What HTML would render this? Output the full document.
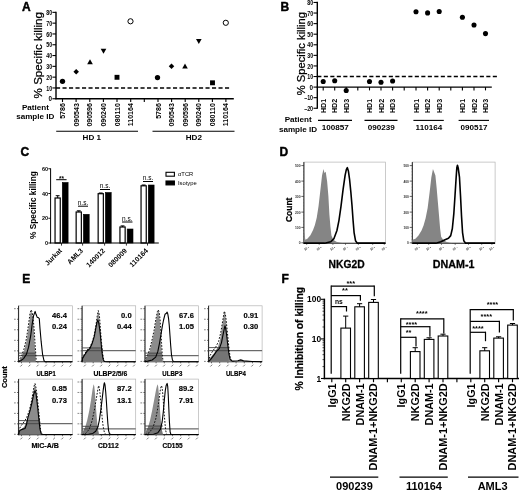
<!DOCTYPE html>
<html lang="en">
<head>
<meta charset="utf-8">
<title>Figure</title>
<style>
html,body{margin:0;padding:0;background:#fff;}
body{width:520px;height:490px;overflow:hidden;}
svg{display:block;font-family:'Liberation Sans', sans-serif;}
</style>
</head>
<body>
<svg width="520" height="490" viewBox="0 0 520 490">
<rect x="0" y="0" width="520" height="490" fill="#ffffff"/>
<text x="22.00" y="10.60" font-size="12" font-weight="bold" text-anchor="start" fill="#000" stroke="#000" stroke-width="0.45" stroke-linejoin="round">A</text>
<text x="0" y="0" transform="translate(41.50 98.40) rotate(-90)" font-size="11.6" font-weight="normal" text-anchor="start" fill="#000" stroke="#000" stroke-width="0.25" stroke-linejoin="round">% Specific killing</text>
<line x1="56.00" y1="11.75" x2="56.00" y2="99.35" stroke="#000" stroke-width="1.4" stroke-linecap="butt"/>
<line x1="52.40" y1="98.75" x2="56.00" y2="98.75" stroke="#000" stroke-width="1.1" stroke-linecap="butt"/>
<text x="52.10" y="101.31" font-size="6.3" font-weight="bold" text-anchor="end" fill="#000">0</text>
<line x1="52.40" y1="87.95" x2="56.00" y2="87.95" stroke="#000" stroke-width="1.1" stroke-linecap="butt"/>
<text x="52.10" y="90.51" font-size="6.3" font-weight="bold" text-anchor="end" fill="#000" textLength="5.90" lengthAdjust="spacingAndGlyphs">10</text>
<line x1="52.40" y1="77.15" x2="56.00" y2="77.15" stroke="#000" stroke-width="1.1" stroke-linecap="butt"/>
<text x="52.10" y="79.71" font-size="6.3" font-weight="bold" text-anchor="end" fill="#000" textLength="5.90" lengthAdjust="spacingAndGlyphs">20</text>
<line x1="52.40" y1="66.35" x2="56.00" y2="66.35" stroke="#000" stroke-width="1.1" stroke-linecap="butt"/>
<text x="52.10" y="68.91" font-size="6.3" font-weight="bold" text-anchor="end" fill="#000" textLength="5.90" lengthAdjust="spacingAndGlyphs">30</text>
<line x1="52.40" y1="55.55" x2="56.00" y2="55.55" stroke="#000" stroke-width="1.1" stroke-linecap="butt"/>
<text x="52.10" y="58.11" font-size="6.3" font-weight="bold" text-anchor="end" fill="#000" textLength="5.90" lengthAdjust="spacingAndGlyphs">40</text>
<line x1="52.40" y1="44.75" x2="56.00" y2="44.75" stroke="#000" stroke-width="1.1" stroke-linecap="butt"/>
<text x="52.10" y="47.31" font-size="6.3" font-weight="bold" text-anchor="end" fill="#000" textLength="5.90" lengthAdjust="spacingAndGlyphs">50</text>
<line x1="52.40" y1="33.95" x2="56.00" y2="33.95" stroke="#000" stroke-width="1.1" stroke-linecap="butt"/>
<text x="52.10" y="36.51" font-size="6.3" font-weight="bold" text-anchor="end" fill="#000" textLength="5.90" lengthAdjust="spacingAndGlyphs">60</text>
<line x1="52.40" y1="23.15" x2="56.00" y2="23.15" stroke="#000" stroke-width="1.1" stroke-linecap="butt"/>
<text x="52.10" y="25.71" font-size="6.3" font-weight="bold" text-anchor="end" fill="#000" textLength="5.90" lengthAdjust="spacingAndGlyphs">70</text>
<line x1="52.40" y1="12.35" x2="56.00" y2="12.35" stroke="#000" stroke-width="1.1" stroke-linecap="butt"/>
<text x="52.10" y="14.91" font-size="6.3" font-weight="bold" text-anchor="end" fill="#000" textLength="5.90" lengthAdjust="spacingAndGlyphs">80</text>
<line x1="55.40" y1="98.75" x2="233.80" y2="98.75" stroke="#000" stroke-width="1.3" stroke-linecap="butt"/>
<line x1="62.50" y1="98.75" x2="62.50" y2="102.05" stroke="#000" stroke-width="1.1" stroke-linecap="butt"/>
<line x1="76.10" y1="98.75" x2="76.10" y2="102.05" stroke="#000" stroke-width="1.1" stroke-linecap="butt"/>
<line x1="89.80" y1="98.75" x2="89.80" y2="102.05" stroke="#000" stroke-width="1.1" stroke-linecap="butt"/>
<line x1="103.40" y1="98.75" x2="103.40" y2="102.05" stroke="#000" stroke-width="1.1" stroke-linecap="butt"/>
<line x1="117.00" y1="98.75" x2="117.00" y2="102.05" stroke="#000" stroke-width="1.1" stroke-linecap="butt"/>
<line x1="130.70" y1="98.75" x2="130.70" y2="102.05" stroke="#000" stroke-width="1.1" stroke-linecap="butt"/>
<line x1="144.30" y1="98.75" x2="144.30" y2="102.05" stroke="#000" stroke-width="1.1" stroke-linecap="butt"/>
<line x1="158.00" y1="98.75" x2="158.00" y2="102.05" stroke="#000" stroke-width="1.1" stroke-linecap="butt"/>
<line x1="171.60" y1="98.75" x2="171.60" y2="102.05" stroke="#000" stroke-width="1.1" stroke-linecap="butt"/>
<line x1="185.20" y1="98.75" x2="185.20" y2="102.05" stroke="#000" stroke-width="1.1" stroke-linecap="butt"/>
<line x1="198.80" y1="98.75" x2="198.80" y2="102.05" stroke="#000" stroke-width="1.1" stroke-linecap="butt"/>
<line x1="212.40" y1="98.75" x2="212.40" y2="102.05" stroke="#000" stroke-width="1.1" stroke-linecap="butt"/>
<line x1="225.90" y1="98.75" x2="225.90" y2="102.05" stroke="#000" stroke-width="1.1" stroke-linecap="butt"/>
<text x="0" y="0" transform="translate(65.00 103.20) rotate(-90)" font-size="7.0" font-weight="bold" text-anchor="end" fill="#000">5786</text>
<text x="0" y="0" transform="translate(78.60 103.20) rotate(-90)" font-size="7.0" font-weight="bold" text-anchor="end" fill="#000">090543</text>
<text x="0" y="0" transform="translate(92.30 103.20) rotate(-90)" font-size="7.0" font-weight="bold" text-anchor="end" fill="#000">090596</text>
<text x="0" y="0" transform="translate(105.90 103.20) rotate(-90)" font-size="7.0" font-weight="bold" text-anchor="end" fill="#000">090240</text>
<text x="0" y="0" transform="translate(119.50 103.20) rotate(-90)" font-size="7.0" font-weight="bold" text-anchor="end" fill="#000">080110</text>
<text x="0" y="0" transform="translate(133.20 103.20) rotate(-90)" font-size="7.0" font-weight="bold" text-anchor="end" fill="#000">110164</text>
<text x="0" y="0" transform="translate(160.50 103.20) rotate(-90)" font-size="7.0" font-weight="bold" text-anchor="end" fill="#000">5786</text>
<text x="0" y="0" transform="translate(174.10 103.20) rotate(-90)" font-size="7.0" font-weight="bold" text-anchor="end" fill="#000">090543</text>
<text x="0" y="0" transform="translate(187.70 103.20) rotate(-90)" font-size="7.0" font-weight="bold" text-anchor="end" fill="#000">090596</text>
<text x="0" y="0" transform="translate(201.30 103.20) rotate(-90)" font-size="7.0" font-weight="bold" text-anchor="end" fill="#000">090240</text>
<text x="0" y="0" transform="translate(214.90 103.20) rotate(-90)" font-size="7.0" font-weight="bold" text-anchor="end" fill="#000">080110</text>
<text x="0" y="0" transform="translate(228.40 103.20) rotate(-90)" font-size="7.0" font-weight="bold" text-anchor="end" fill="#000">110164</text>
<line x1="56.00" y1="88.00" x2="231.00" y2="88.00" stroke="#000" stroke-width="1.3" stroke-dasharray="4.1 2.4" stroke-linecap="butt"/>
<circle cx="62.50" cy="81.30" r="2.65" fill="#000" stroke="none" stroke-width="1.0"/>
<path d="M76.20 69.05 L78.95 71.80 L76.20 74.55 L73.45 71.80 Z" fill="#000" stroke="none" stroke-width="1.0" stroke-linejoin="round"/>
<path d="M90.00 59.20 L92.80 64.24 L87.20 64.24 Z" fill="#000" stroke="none" stroke-width="1.0" stroke-linejoin="round"/>
<path d="M103.50 53.80 L106.30 48.76 L100.70 48.76 Z" fill="#000" stroke="none" stroke-width="1.0" stroke-linejoin="round"/>
<path d="M114.55 74.85 L119.45 74.85 L119.45 79.75 L114.55 79.75 Z" fill="#000" stroke="none" stroke-width="1.0" stroke-linejoin="round"/>
<circle cx="130.50" cy="21.30" r="2.6" fill="#fff" stroke="#000" stroke-width="1.0"/>
<circle cx="157.50" cy="77.60" r="2.65" fill="#000" stroke="none" stroke-width="1.0"/>
<path d="M171.50 63.55 L174.25 66.30 L171.50 69.05 L168.75 66.30 Z" fill="#000" stroke="none" stroke-width="1.0" stroke-linejoin="round"/>
<path d="M185.00 63.40 L187.80 68.44 L182.20 68.44 Z" fill="#000" stroke="none" stroke-width="1.0" stroke-linejoin="round"/>
<path d="M198.80 44.00 L201.60 38.96 L196.00 38.96 Z" fill="#000" stroke="none" stroke-width="1.0" stroke-linejoin="round"/>
<path d="M210.05 80.35 L214.95 80.35 L214.95 85.25 L210.05 85.25 Z" fill="#000" stroke="none" stroke-width="1.0" stroke-linejoin="round"/>
<circle cx="225.80" cy="22.80" r="2.6" fill="#fff" stroke="#000" stroke-width="1.0"/>
<text x="35.40" y="109.60" font-size="8.1" font-weight="bold" text-anchor="middle" fill="#000">Patient</text>
<text x="35.30" y="119.00" font-size="8.1" font-weight="bold" text-anchor="middle" fill="#000">sample ID</text>
<line x1="56.20" y1="131.30" x2="138.00" y2="131.30" stroke="#000" stroke-width="1.1" stroke-linecap="butt"/>
<line x1="152.50" y1="131.30" x2="234.50" y2="131.30" stroke="#000" stroke-width="1.1" stroke-linecap="butt"/>
<text x="91.80" y="140.00" font-size="8.1" font-weight="bold" text-anchor="middle" fill="#000">HD 1</text>
<text x="193.80" y="140.00" font-size="8.1" font-weight="bold" text-anchor="middle" fill="#000">HD2</text>
<text x="280.50" y="10.60" font-size="12" font-weight="bold" text-anchor="start" fill="#000" stroke="#000" stroke-width="0.45" stroke-linejoin="round">B</text>
<text x="0" y="0" transform="translate(305.00 95.30) rotate(-90)" font-size="11.2" font-weight="normal" text-anchor="start" fill="#000" stroke="#000" stroke-width="0.25" stroke-linejoin="round">% Specific killing</text>
<line x1="317.30" y1="1.86" x2="317.30" y2="108.86" stroke="#000" stroke-width="1.4" stroke-linecap="butt"/>
<line x1="313.50" y1="108.26" x2="317.30" y2="108.26" stroke="#000" stroke-width="1.1" stroke-linecap="butt"/>
<text x="313.10" y="110.82" font-size="6.3" font-weight="bold" text-anchor="end" fill="#000" textLength="8.90" lengthAdjust="spacingAndGlyphs">–20</text>
<line x1="313.50" y1="97.68" x2="317.30" y2="97.68" stroke="#000" stroke-width="1.1" stroke-linecap="butt"/>
<text x="313.10" y="100.24" font-size="6.3" font-weight="bold" text-anchor="end" fill="#000" textLength="8.90" lengthAdjust="spacingAndGlyphs">–10</text>
<line x1="313.50" y1="87.10" x2="317.30" y2="87.10" stroke="#000" stroke-width="1.1" stroke-linecap="butt"/>
<text x="313.10" y="89.66" font-size="6.3" font-weight="bold" text-anchor="end" fill="#000">0</text>
<line x1="313.50" y1="76.52" x2="317.30" y2="76.52" stroke="#000" stroke-width="1.1" stroke-linecap="butt"/>
<text x="313.10" y="79.08" font-size="6.3" font-weight="bold" text-anchor="end" fill="#000" textLength="5.90" lengthAdjust="spacingAndGlyphs">10</text>
<line x1="313.50" y1="65.94" x2="317.30" y2="65.94" stroke="#000" stroke-width="1.1" stroke-linecap="butt"/>
<text x="313.10" y="68.50" font-size="6.3" font-weight="bold" text-anchor="end" fill="#000" textLength="5.90" lengthAdjust="spacingAndGlyphs">20</text>
<line x1="313.50" y1="55.36" x2="317.30" y2="55.36" stroke="#000" stroke-width="1.1" stroke-linecap="butt"/>
<text x="313.10" y="57.92" font-size="6.3" font-weight="bold" text-anchor="end" fill="#000" textLength="5.90" lengthAdjust="spacingAndGlyphs">30</text>
<line x1="313.50" y1="44.78" x2="317.30" y2="44.78" stroke="#000" stroke-width="1.1" stroke-linecap="butt"/>
<text x="313.10" y="47.34" font-size="6.3" font-weight="bold" text-anchor="end" fill="#000" textLength="5.90" lengthAdjust="spacingAndGlyphs">40</text>
<line x1="313.50" y1="34.20" x2="317.30" y2="34.20" stroke="#000" stroke-width="1.1" stroke-linecap="butt"/>
<text x="313.10" y="36.76" font-size="6.3" font-weight="bold" text-anchor="end" fill="#000" textLength="5.90" lengthAdjust="spacingAndGlyphs">50</text>
<line x1="313.50" y1="23.62" x2="317.30" y2="23.62" stroke="#000" stroke-width="1.1" stroke-linecap="butt"/>
<text x="313.10" y="26.18" font-size="6.3" font-weight="bold" text-anchor="end" fill="#000" textLength="5.90" lengthAdjust="spacingAndGlyphs">60</text>
<line x1="313.50" y1="13.04" x2="317.30" y2="13.04" stroke="#000" stroke-width="1.1" stroke-linecap="butt"/>
<text x="313.10" y="15.60" font-size="6.3" font-weight="bold" text-anchor="end" fill="#000" textLength="5.90" lengthAdjust="spacingAndGlyphs">70</text>
<line x1="313.50" y1="2.46" x2="317.30" y2="2.46" stroke="#000" stroke-width="1.1" stroke-linecap="butt"/>
<text x="313.10" y="5.02" font-size="6.3" font-weight="bold" text-anchor="end" fill="#000" textLength="5.90" lengthAdjust="spacingAndGlyphs">80</text>
<line x1="316.70" y1="87.10" x2="491.80" y2="87.10" stroke="#000" stroke-width="1.3" stroke-linecap="butt"/>
<line x1="323.20" y1="87.10" x2="323.20" y2="90.40" stroke="#000" stroke-width="1.1" stroke-linecap="butt"/>
<line x1="334.70" y1="87.10" x2="334.70" y2="90.40" stroke="#000" stroke-width="1.1" stroke-linecap="butt"/>
<line x1="346.20" y1="87.10" x2="346.20" y2="90.40" stroke="#000" stroke-width="1.1" stroke-linecap="butt"/>
<line x1="369.50" y1="87.10" x2="369.50" y2="90.40" stroke="#000" stroke-width="1.1" stroke-linecap="butt"/>
<line x1="381.00" y1="87.10" x2="381.00" y2="90.40" stroke="#000" stroke-width="1.1" stroke-linecap="butt"/>
<line x1="392.60" y1="87.10" x2="392.60" y2="90.40" stroke="#000" stroke-width="1.1" stroke-linecap="butt"/>
<line x1="416.00" y1="87.10" x2="416.00" y2="90.40" stroke="#000" stroke-width="1.1" stroke-linecap="butt"/>
<line x1="427.60" y1="87.10" x2="427.60" y2="90.40" stroke="#000" stroke-width="1.1" stroke-linecap="butt"/>
<line x1="439.20" y1="87.10" x2="439.20" y2="90.40" stroke="#000" stroke-width="1.1" stroke-linecap="butt"/>
<line x1="462.40" y1="87.10" x2="462.40" y2="90.40" stroke="#000" stroke-width="1.1" stroke-linecap="butt"/>
<line x1="474.00" y1="87.10" x2="474.00" y2="90.40" stroke="#000" stroke-width="1.1" stroke-linecap="butt"/>
<line x1="485.50" y1="87.10" x2="485.50" y2="90.40" stroke="#000" stroke-width="1.1" stroke-linecap="butt"/>
<line x1="357.80" y1="87.10" x2="357.80" y2="90.40" stroke="#000" stroke-width="1.1" stroke-linecap="butt"/>
<line x1="404.20" y1="87.10" x2="404.20" y2="90.40" stroke="#000" stroke-width="1.1" stroke-linecap="butt"/>
<line x1="450.80" y1="87.10" x2="450.80" y2="90.40" stroke="#000" stroke-width="1.1" stroke-linecap="butt"/>
<line x1="317.30" y1="76.50" x2="497.00" y2="76.50" stroke="#000" stroke-width="1.3" stroke-dasharray="4.1 2.4" stroke-linecap="butt"/>
<circle cx="323.20" cy="81.50" r="2.55" fill="#000" stroke="none" stroke-width="1.0"/>
<circle cx="334.70" cy="80.70" r="2.55" fill="#000" stroke="none" stroke-width="1.0"/>
<circle cx="346.20" cy="90.50" r="2.55" fill="#000" stroke="none" stroke-width="1.0"/>
<text x="0" y="0" transform="translate(325.80 98.80) rotate(-90)" font-size="7.1" font-weight="bold" text-anchor="end" fill="#000">HD1</text>
<text x="0" y="0" transform="translate(337.30 98.80) rotate(-90)" font-size="7.1" font-weight="bold" text-anchor="end" fill="#000">HD2</text>
<text x="0" y="0" transform="translate(348.80 98.80) rotate(-90)" font-size="7.1" font-weight="bold" text-anchor="end" fill="#000">HD3</text>
<circle cx="369.50" cy="81.50" r="2.55" fill="#000" stroke="none" stroke-width="1.0"/>
<circle cx="381.00" cy="82.20" r="2.55" fill="#000" stroke="none" stroke-width="1.0"/>
<circle cx="392.60" cy="81.00" r="2.55" fill="#000" stroke="none" stroke-width="1.0"/>
<text x="0" y="0" transform="translate(372.10 98.80) rotate(-90)" font-size="7.1" font-weight="bold" text-anchor="end" fill="#000">HD1</text>
<text x="0" y="0" transform="translate(383.60 98.80) rotate(-90)" font-size="7.1" font-weight="bold" text-anchor="end" fill="#000">HD2</text>
<text x="0" y="0" transform="translate(395.20 98.80) rotate(-90)" font-size="7.1" font-weight="bold" text-anchor="end" fill="#000">HD3</text>
<circle cx="416.00" cy="11.80" r="2.55" fill="#000" stroke="none" stroke-width="1.0"/>
<circle cx="427.60" cy="12.90" r="2.55" fill="#000" stroke="none" stroke-width="1.0"/>
<circle cx="439.20" cy="11.50" r="2.55" fill="#000" stroke="none" stroke-width="1.0"/>
<text x="0" y="0" transform="translate(418.60 98.80) rotate(-90)" font-size="7.1" font-weight="bold" text-anchor="end" fill="#000">HD1</text>
<text x="0" y="0" transform="translate(430.20 98.80) rotate(-90)" font-size="7.1" font-weight="bold" text-anchor="end" fill="#000">HD2</text>
<text x="0" y="0" transform="translate(441.80 98.80) rotate(-90)" font-size="7.1" font-weight="bold" text-anchor="end" fill="#000">HD3</text>
<circle cx="462.40" cy="17.20" r="2.55" fill="#000" stroke="none" stroke-width="1.0"/>
<circle cx="474.00" cy="25.00" r="2.55" fill="#000" stroke="none" stroke-width="1.0"/>
<circle cx="485.50" cy="33.60" r="2.55" fill="#000" stroke="none" stroke-width="1.0"/>
<text x="0" y="0" transform="translate(465.00 98.80) rotate(-90)" font-size="7.1" font-weight="bold" text-anchor="end" fill="#000">HD1</text>
<text x="0" y="0" transform="translate(476.60 98.80) rotate(-90)" font-size="7.1" font-weight="bold" text-anchor="end" fill="#000">HD2</text>
<text x="0" y="0" transform="translate(488.10 98.80) rotate(-90)" font-size="7.1" font-weight="bold" text-anchor="end" fill="#000">HD3</text>
<text x="298.20" y="121.90" font-size="8.1" font-weight="bold" text-anchor="middle" fill="#000">Patient</text>
<text x="298.00" y="131.90" font-size="8.1" font-weight="bold" text-anchor="middle" fill="#000">sample ID</text>
<line x1="318.00" y1="120.40" x2="352.00" y2="120.40" stroke="#000" stroke-width="1.1" stroke-linecap="butt"/>
<text x="335.30" y="130.40" font-size="8.1" font-weight="bold" text-anchor="middle" fill="#000">100857</text>
<line x1="364.50" y1="120.40" x2="397.50" y2="120.40" stroke="#000" stroke-width="1.1" stroke-linecap="butt"/>
<text x="381.30" y="130.40" font-size="8.1" font-weight="bold" text-anchor="middle" fill="#000">090239</text>
<line x1="413.40" y1="120.40" x2="443.80" y2="120.40" stroke="#000" stroke-width="1.1" stroke-linecap="butt"/>
<text x="428.90" y="130.40" font-size="8.1" font-weight="bold" text-anchor="middle" fill="#000">110164</text>
<line x1="458.60" y1="120.40" x2="489.00" y2="120.40" stroke="#000" stroke-width="1.1" stroke-linecap="butt"/>
<text x="474.10" y="130.40" font-size="8.1" font-weight="bold" text-anchor="middle" fill="#000">090517</text>
<text x="20.50" y="156.30" font-size="12" font-weight="bold" text-anchor="start" fill="#000" stroke="#000" stroke-width="0.45" stroke-linejoin="round">C</text>
<text x="0" y="0" transform="translate(35.80 239.00) rotate(-90)" font-size="8.3" font-weight="bold" text-anchor="start" fill="#000">% Specific killing</text>
<line x1="50.60" y1="168.35" x2="50.60" y2="243.40" stroke="#000" stroke-width="1.0" stroke-linecap="butt"/>
<line x1="48.30" y1="243.00" x2="50.60" y2="243.00" stroke="#000" stroke-width="0.9" stroke-linecap="butt"/>
<text x="48.00" y="245.17" font-size="5.5" font-weight="bold" text-anchor="end" fill="#000">0</text>
<line x1="48.30" y1="218.25" x2="50.60" y2="218.25" stroke="#000" stroke-width="0.9" stroke-linecap="butt"/>
<text x="48.00" y="220.42" font-size="5.5" font-weight="bold" text-anchor="end" fill="#000">20</text>
<line x1="48.30" y1="193.50" x2="50.60" y2="193.50" stroke="#000" stroke-width="0.9" stroke-linecap="butt"/>
<text x="48.00" y="195.67" font-size="5.5" font-weight="bold" text-anchor="end" fill="#000">40</text>
<line x1="48.30" y1="168.75" x2="50.60" y2="168.75" stroke="#000" stroke-width="0.9" stroke-linecap="butt"/>
<text x="48.00" y="170.92" font-size="5.5" font-weight="bold" text-anchor="end" fill="#000">60</text>
<rect x="55.05" y="198.00" width="5.20" height="45.00" fill="#fff" stroke="#000" stroke-width="1.2"/>
<line x1="57.70" y1="195.70" x2="57.70" y2="198.00" stroke="#000" stroke-width="1.0" stroke-linecap="butt"/>
<line x1="55.70" y1="195.70" x2="59.60" y2="195.70" stroke="#000" stroke-width="1.0" stroke-linecap="butt"/>
<rect x="62.30" y="182.50" width="5.80" height="60.50" fill="#000" stroke="#000" stroke-width="0.6"/>
<rect x="76.15" y="212.00" width="5.20" height="31.00" fill="#fff" stroke="#000" stroke-width="1.2"/>
<line x1="78.80" y1="210.80" x2="78.80" y2="212.00" stroke="#000" stroke-width="1.0" stroke-linecap="butt"/>
<line x1="76.80" y1="210.80" x2="80.70" y2="210.80" stroke="#000" stroke-width="1.0" stroke-linecap="butt"/>
<rect x="83.40" y="214.30" width="5.80" height="28.70" fill="#000" stroke="#000" stroke-width="0.6"/>
<rect x="98.15" y="193.70" width="5.20" height="49.30" fill="#fff" stroke="#000" stroke-width="1.2"/>
<line x1="100.80" y1="193.00" x2="100.80" y2="193.70" stroke="#000" stroke-width="1.0" stroke-linecap="butt"/>
<line x1="98.80" y1="193.00" x2="102.70" y2="193.00" stroke="#000" stroke-width="1.0" stroke-linecap="butt"/>
<rect x="105.40" y="192.50" width="5.80" height="50.50" fill="#000" stroke="#000" stroke-width="0.6"/>
<rect x="119.95" y="227.00" width="5.20" height="16.00" fill="#fff" stroke="#000" stroke-width="1.2"/>
<line x1="122.60" y1="225.90" x2="122.60" y2="227.00" stroke="#000" stroke-width="1.0" stroke-linecap="butt"/>
<line x1="120.60" y1="225.90" x2="124.50" y2="225.90" stroke="#000" stroke-width="1.0" stroke-linecap="butt"/>
<rect x="127.20" y="229.00" width="5.80" height="14.00" fill="#000" stroke="#000" stroke-width="0.6"/>
<rect x="141.05" y="185.80" width="5.20" height="57.20" fill="#fff" stroke="#000" stroke-width="1.2"/>
<line x1="143.70" y1="185.00" x2="143.70" y2="185.80" stroke="#000" stroke-width="1.0" stroke-linecap="butt"/>
<line x1="141.70" y1="185.00" x2="145.60" y2="185.00" stroke="#000" stroke-width="1.0" stroke-linecap="butt"/>
<rect x="148.30" y="185.00" width="5.80" height="58.00" fill="#000" stroke="#000" stroke-width="0.6"/>
<line x1="50.20" y1="243.00" x2="158.80" y2="243.00" stroke="#000" stroke-width="1.0" stroke-linecap="butt"/>
<line x1="56.20" y1="179.70" x2="66.60" y2="179.70" stroke="#000" stroke-width="1.0" stroke-linecap="butt"/>
<text x="61.40" y="181.10" font-size="6.4" font-weight="bold" text-anchor="middle" fill="#000">**</text>
<line x1="78.00" y1="206.20" x2="88.00" y2="206.20" stroke="#000" stroke-width="1.0" stroke-linecap="butt"/>
<text x="83.00" y="205.00" font-size="6.5" font-weight="normal" text-anchor="middle" fill="#000">n.s.</text>
<line x1="100.00" y1="189.50" x2="110.00" y2="189.50" stroke="#000" stroke-width="1.0" stroke-linecap="butt"/>
<text x="105.00" y="188.30" font-size="6.5" font-weight="normal" text-anchor="middle" fill="#000">n.s.</text>
<line x1="122.00" y1="222.00" x2="132.50" y2="222.00" stroke="#000" stroke-width="1.0" stroke-linecap="butt"/>
<text x="127.25" y="220.80" font-size="6.5" font-weight="normal" text-anchor="middle" fill="#000">n.s.</text>
<line x1="143.00" y1="181.50" x2="153.00" y2="181.50" stroke="#000" stroke-width="1.0" stroke-linecap="butt"/>
<text x="148.00" y="180.30" font-size="6.5" font-weight="normal" text-anchor="middle" fill="#000">n.s.</text>
<line x1="61.50" y1="243.00" x2="61.50" y2="245.60" stroke="#000" stroke-width="0.8" stroke-linecap="butt"/>
<text x="0" y="0" transform="translate(62.50 251.20) rotate(-45)" font-size="7.0" font-weight="bold" text-anchor="end" fill="#000">Jurkat</text>
<line x1="82.60" y1="243.00" x2="82.60" y2="245.60" stroke="#000" stroke-width="0.8" stroke-linecap="butt"/>
<text x="0" y="0" transform="translate(83.60 251.20) rotate(-45)" font-size="7.0" font-weight="bold" text-anchor="end" fill="#000">AML3</text>
<line x1="104.60" y1="243.00" x2="104.60" y2="245.60" stroke="#000" stroke-width="0.8" stroke-linecap="butt"/>
<text x="0" y="0" transform="translate(105.60 251.20) rotate(-45)" font-size="7.0" font-weight="bold" text-anchor="end" fill="#000">140012</text>
<line x1="126.40" y1="243.00" x2="126.40" y2="245.60" stroke="#000" stroke-width="0.8" stroke-linecap="butt"/>
<text x="0" y="0" transform="translate(127.40 251.20) rotate(-45)" font-size="7.0" font-weight="bold" text-anchor="end" fill="#000">080009</text>
<line x1="147.50" y1="243.00" x2="147.50" y2="245.60" stroke="#000" stroke-width="0.8" stroke-linecap="butt"/>
<text x="0" y="0" transform="translate(148.50 251.20) rotate(-45)" font-size="7.0" font-weight="bold" text-anchor="end" fill="#000">110164</text>
<rect x="166.00" y="172.30" width="8.40" height="3.90" fill="#fff" stroke="#000" stroke-width="1.1"/>
<rect x="166.00" y="181.00" width="8.40" height="3.90" fill="#000" stroke="#000" stroke-width="1.1"/>
<text x="178.00" y="176.38" font-size="5.8" font-weight="normal" text-anchor="start" fill="#000">αTCR</text>
<text x="178.00" y="185.08" font-size="5.8" font-weight="normal" text-anchor="start" fill="#000">Isotype</text>
<text x="279.40" y="156.30" font-size="12" font-weight="bold" text-anchor="start" fill="#000" stroke="#000" stroke-width="0.45" stroke-linejoin="round">D</text>
<rect x="303.90" y="162.10" width="81.70" height="81.10" fill="#fff" stroke="#b4b4b4" stroke-width="0.7"/>
<line x1="303.90" y1="162.10" x2="303.90" y2="243.70" stroke="#222" stroke-width="1.0" stroke-linecap="butt"/>
<line x1="303.40" y1="243.20" x2="385.60" y2="243.20" stroke="#222" stroke-width="1.1" stroke-linecap="butt"/>
<line x1="301.30" y1="165.60" x2="303.90" y2="165.60" stroke="#222" stroke-width="0.7" stroke-linecap="butt"/>
<line x1="301.30" y1="181.10" x2="303.90" y2="181.10" stroke="#222" stroke-width="0.7" stroke-linecap="butt"/>
<line x1="301.30" y1="196.40" x2="303.90" y2="196.40" stroke="#222" stroke-width="0.7" stroke-linecap="butt"/>
<line x1="301.30" y1="212.10" x2="303.90" y2="212.10" stroke="#222" stroke-width="0.7" stroke-linecap="butt"/>
<line x1="301.30" y1="227.40" x2="303.90" y2="227.40" stroke="#222" stroke-width="0.7" stroke-linecap="butt"/>
<line x1="301.30" y1="242.80" x2="303.90" y2="242.80" stroke="#222" stroke-width="0.7" stroke-linecap="butt"/>
<line x1="303.00" y1="168.70" x2="303.90" y2="168.70" stroke="#444" stroke-width="0.35" stroke-linecap="butt"/>
<line x1="303.00" y1="171.80" x2="303.90" y2="171.80" stroke="#444" stroke-width="0.35" stroke-linecap="butt"/>
<line x1="303.00" y1="174.90" x2="303.90" y2="174.90" stroke="#444" stroke-width="0.35" stroke-linecap="butt"/>
<line x1="303.00" y1="178.00" x2="303.90" y2="178.00" stroke="#444" stroke-width="0.35" stroke-linecap="butt"/>
<line x1="303.00" y1="184.16" x2="303.90" y2="184.16" stroke="#444" stroke-width="0.35" stroke-linecap="butt"/>
<line x1="303.00" y1="187.22" x2="303.90" y2="187.22" stroke="#444" stroke-width="0.35" stroke-linecap="butt"/>
<line x1="303.00" y1="190.28" x2="303.90" y2="190.28" stroke="#444" stroke-width="0.35" stroke-linecap="butt"/>
<line x1="303.00" y1="193.34" x2="303.90" y2="193.34" stroke="#444" stroke-width="0.35" stroke-linecap="butt"/>
<line x1="303.00" y1="199.54" x2="303.90" y2="199.54" stroke="#444" stroke-width="0.35" stroke-linecap="butt"/>
<line x1="303.00" y1="202.68" x2="303.90" y2="202.68" stroke="#444" stroke-width="0.35" stroke-linecap="butt"/>
<line x1="303.00" y1="205.82" x2="303.90" y2="205.82" stroke="#444" stroke-width="0.35" stroke-linecap="butt"/>
<line x1="303.00" y1="208.96" x2="303.90" y2="208.96" stroke="#444" stroke-width="0.35" stroke-linecap="butt"/>
<line x1="303.00" y1="215.16" x2="303.90" y2="215.16" stroke="#444" stroke-width="0.35" stroke-linecap="butt"/>
<line x1="303.00" y1="218.22" x2="303.90" y2="218.22" stroke="#444" stroke-width="0.35" stroke-linecap="butt"/>
<line x1="303.00" y1="221.28" x2="303.90" y2="221.28" stroke="#444" stroke-width="0.35" stroke-linecap="butt"/>
<line x1="303.00" y1="224.34" x2="303.90" y2="224.34" stroke="#444" stroke-width="0.35" stroke-linecap="butt"/>
<line x1="303.00" y1="230.48" x2="303.90" y2="230.48" stroke="#444" stroke-width="0.35" stroke-linecap="butt"/>
<line x1="303.00" y1="233.56" x2="303.90" y2="233.56" stroke="#444" stroke-width="0.35" stroke-linecap="butt"/>
<line x1="303.00" y1="236.64" x2="303.90" y2="236.64" stroke="#444" stroke-width="0.35" stroke-linecap="butt"/>
<line x1="303.00" y1="239.72" x2="303.90" y2="239.72" stroke="#444" stroke-width="0.35" stroke-linecap="butt"/>
<line x1="306.70" y1="243.20" x2="306.70" y2="244.80" stroke="#333" stroke-width="0.7" stroke-linecap="butt"/>
<line x1="319.20" y1="243.20" x2="319.20" y2="244.80" stroke="#333" stroke-width="0.7" stroke-linecap="butt"/>
<line x1="332.90" y1="243.20" x2="332.90" y2="244.80" stroke="#333" stroke-width="0.7" stroke-linecap="butt"/>
<line x1="345.50" y1="243.20" x2="345.50" y2="244.80" stroke="#333" stroke-width="0.7" stroke-linecap="butt"/>
<line x1="358.40" y1="243.20" x2="358.40" y2="244.80" stroke="#333" stroke-width="0.7" stroke-linecap="butt"/>
<line x1="372.70" y1="243.20" x2="372.70" y2="244.80" stroke="#333" stroke-width="0.7" stroke-linecap="butt"/>
<line x1="384.30" y1="243.20" x2="384.30" y2="244.80" stroke="#333" stroke-width="0.7" stroke-linecap="butt"/>
<text x="300.50" y="167.08" font-size="3.3" font-weight="bold" text-anchor="end" fill="#333">500</text>
<text x="300.50" y="182.58" font-size="3.3" font-weight="bold" text-anchor="end" fill="#333">400</text>
<text x="300.50" y="197.88" font-size="3.3" font-weight="bold" text-anchor="end" fill="#333">300</text>
<text x="300.50" y="213.58" font-size="3.3" font-weight="bold" text-anchor="end" fill="#333">200</text>
<text x="300.50" y="228.88" font-size="3.3" font-weight="bold" text-anchor="end" fill="#333">100</text>
<text x="300.50" y="244.28" font-size="3.3" font-weight="bold" text-anchor="end" fill="#333">0</text>
<text x="0" y="0" transform="translate(306.30 249.80) rotate(-35)" font-size="3.1" font-weight="bold" text-anchor="middle" fill="#333">10</text>
<text x="308.40" y="247.70" font-size="2.1" font-weight="bold" text-anchor="middle" fill="#333">1</text>
<text x="0" y="0" transform="translate(318.80 249.80) rotate(-35)" font-size="3.1" font-weight="bold" text-anchor="middle" fill="#333">10</text>
<text x="320.90" y="247.70" font-size="2.1" font-weight="bold" text-anchor="middle" fill="#333">2</text>
<text x="0" y="0" transform="translate(332.50 249.80) rotate(-35)" font-size="3.1" font-weight="bold" text-anchor="middle" fill="#333">10</text>
<text x="334.60" y="247.70" font-size="2.1" font-weight="bold" text-anchor="middle" fill="#333">3</text>
<text x="0" y="0" transform="translate(345.10 249.80) rotate(-35)" font-size="3.1" font-weight="bold" text-anchor="middle" fill="#333">10</text>
<text x="347.20" y="247.70" font-size="2.1" font-weight="bold" text-anchor="middle" fill="#333">4</text>
<text x="0" y="0" transform="translate(358.00 249.80) rotate(-35)" font-size="3.1" font-weight="bold" text-anchor="middle" fill="#333">10</text>
<text x="360.10" y="247.70" font-size="2.1" font-weight="bold" text-anchor="middle" fill="#333">5</text>
<text x="0" y="0" transform="translate(372.30 249.80) rotate(-35)" font-size="3.1" font-weight="bold" text-anchor="middle" fill="#333">10</text>
<text x="374.40" y="247.70" font-size="2.1" font-weight="bold" text-anchor="middle" fill="#333">6</text>
<text x="0" y="0" transform="translate(383.90 249.80) rotate(-35)" font-size="3.1" font-weight="bold" text-anchor="middle" fill="#333">10</text>
<text x="386.00" y="247.70" font-size="2.1" font-weight="bold" text-anchor="middle" fill="#333">7</text>
<path d="M303.88 243.16 L303.88 232.14 L304.49 233.57 L305.31 239.69 L307.35 238.67 L310.41 235.20 L313.06 230.10 L314.90 225.00 L316.73 217.86 L318.57 206.02 L320.20 191.73 L322.04 175.41 L323.47 168.88 L324.49 172.96 L325.71 171.73 L327.14 181.53 L328.37 195.82 L329.39 214.18 L330.41 226.43 L331.43 235.61 L333.27 239.69 L336.33 241.73 L340.41 242.76 L343.88 243.16 Z" fill="#858585" stroke="none" stroke-width="1.0" stroke-linejoin="round"/>
<path d="M303.88 243.16 L324.69 243.16 L330.82 241.73 L333.88 238.67 L336.94 230.51 L338.98 220.31 L341.02 206.02 L343.06 189.69 L345.10 175.41 L346.33 169.69 L347.35 167.65 L348.37 170.92 L349.59 179.49 L350.82 191.73 L352.04 206.02 L353.06 220.31 L354.08 232.55 L355.51 240.71 L357.35 243.16 L385.51 243.16" fill="none" stroke="#000" stroke-width="1.6" stroke-linejoin="round"/>
<text x="0" y="0" transform="translate(292.30 209.80) rotate(-90)" font-size="8.6" font-weight="bold" text-anchor="middle" fill="#000" textLength="24.50" lengthAdjust="spacingAndGlyphs" stroke="#000" stroke-width="0.25" stroke-linejoin="round">Count</text>
<text x="346.60" y="268.40" font-size="11.4" font-weight="bold" text-anchor="middle" fill="#000" textLength="36.00" lengthAdjust="spacingAndGlyphs" stroke="#000" stroke-width="0.3" stroke-linejoin="round">NKG2D</text>
<rect x="412.30" y="162.10" width="82.80" height="81.10" fill="#fff" stroke="#b4b4b4" stroke-width="0.7"/>
<line x1="412.30" y1="162.10" x2="412.30" y2="243.70" stroke="#222" stroke-width="1.0" stroke-linecap="butt"/>
<line x1="411.80" y1="243.20" x2="495.10" y2="243.20" stroke="#222" stroke-width="1.1" stroke-linecap="butt"/>
<line x1="409.70" y1="165.60" x2="412.30" y2="165.60" stroke="#222" stroke-width="0.7" stroke-linecap="butt"/>
<line x1="409.70" y1="181.10" x2="412.30" y2="181.10" stroke="#222" stroke-width="0.7" stroke-linecap="butt"/>
<line x1="409.70" y1="196.40" x2="412.30" y2="196.40" stroke="#222" stroke-width="0.7" stroke-linecap="butt"/>
<line x1="409.70" y1="212.10" x2="412.30" y2="212.10" stroke="#222" stroke-width="0.7" stroke-linecap="butt"/>
<line x1="409.70" y1="227.40" x2="412.30" y2="227.40" stroke="#222" stroke-width="0.7" stroke-linecap="butt"/>
<line x1="409.70" y1="242.80" x2="412.30" y2="242.80" stroke="#222" stroke-width="0.7" stroke-linecap="butt"/>
<line x1="411.40" y1="168.70" x2="412.30" y2="168.70" stroke="#444" stroke-width="0.35" stroke-linecap="butt"/>
<line x1="411.40" y1="171.80" x2="412.30" y2="171.80" stroke="#444" stroke-width="0.35" stroke-linecap="butt"/>
<line x1="411.40" y1="174.90" x2="412.30" y2="174.90" stroke="#444" stroke-width="0.35" stroke-linecap="butt"/>
<line x1="411.40" y1="178.00" x2="412.30" y2="178.00" stroke="#444" stroke-width="0.35" stroke-linecap="butt"/>
<line x1="411.40" y1="184.16" x2="412.30" y2="184.16" stroke="#444" stroke-width="0.35" stroke-linecap="butt"/>
<line x1="411.40" y1="187.22" x2="412.30" y2="187.22" stroke="#444" stroke-width="0.35" stroke-linecap="butt"/>
<line x1="411.40" y1="190.28" x2="412.30" y2="190.28" stroke="#444" stroke-width="0.35" stroke-linecap="butt"/>
<line x1="411.40" y1="193.34" x2="412.30" y2="193.34" stroke="#444" stroke-width="0.35" stroke-linecap="butt"/>
<line x1="411.40" y1="199.54" x2="412.30" y2="199.54" stroke="#444" stroke-width="0.35" stroke-linecap="butt"/>
<line x1="411.40" y1="202.68" x2="412.30" y2="202.68" stroke="#444" stroke-width="0.35" stroke-linecap="butt"/>
<line x1="411.40" y1="205.82" x2="412.30" y2="205.82" stroke="#444" stroke-width="0.35" stroke-linecap="butt"/>
<line x1="411.40" y1="208.96" x2="412.30" y2="208.96" stroke="#444" stroke-width="0.35" stroke-linecap="butt"/>
<line x1="411.40" y1="215.16" x2="412.30" y2="215.16" stroke="#444" stroke-width="0.35" stroke-linecap="butt"/>
<line x1="411.40" y1="218.22" x2="412.30" y2="218.22" stroke="#444" stroke-width="0.35" stroke-linecap="butt"/>
<line x1="411.40" y1="221.28" x2="412.30" y2="221.28" stroke="#444" stroke-width="0.35" stroke-linecap="butt"/>
<line x1="411.40" y1="224.34" x2="412.30" y2="224.34" stroke="#444" stroke-width="0.35" stroke-linecap="butt"/>
<line x1="411.40" y1="230.48" x2="412.30" y2="230.48" stroke="#444" stroke-width="0.35" stroke-linecap="butt"/>
<line x1="411.40" y1="233.56" x2="412.30" y2="233.56" stroke="#444" stroke-width="0.35" stroke-linecap="butt"/>
<line x1="411.40" y1="236.64" x2="412.30" y2="236.64" stroke="#444" stroke-width="0.35" stroke-linecap="butt"/>
<line x1="411.40" y1="239.72" x2="412.30" y2="239.72" stroke="#444" stroke-width="0.35" stroke-linecap="butt"/>
<line x1="417.40" y1="243.20" x2="417.40" y2="244.80" stroke="#333" stroke-width="0.7" stroke-linecap="butt"/>
<line x1="428.70" y1="243.20" x2="428.70" y2="244.80" stroke="#333" stroke-width="0.7" stroke-linecap="butt"/>
<line x1="441.50" y1="243.20" x2="441.50" y2="244.80" stroke="#333" stroke-width="0.7" stroke-linecap="butt"/>
<line x1="455.20" y1="243.20" x2="455.20" y2="244.80" stroke="#333" stroke-width="0.7" stroke-linecap="butt"/>
<line x1="468.50" y1="243.20" x2="468.50" y2="244.80" stroke="#333" stroke-width="0.7" stroke-linecap="butt"/>
<line x1="481.70" y1="243.20" x2="481.70" y2="244.80" stroke="#333" stroke-width="0.7" stroke-linecap="butt"/>
<line x1="491.90" y1="243.20" x2="491.90" y2="244.80" stroke="#333" stroke-width="0.7" stroke-linecap="butt"/>
<text x="408.90" y="167.08" font-size="3.3" font-weight="bold" text-anchor="end" fill="#333">500</text>
<text x="408.90" y="182.58" font-size="3.3" font-weight="bold" text-anchor="end" fill="#333">400</text>
<text x="408.90" y="197.88" font-size="3.3" font-weight="bold" text-anchor="end" fill="#333">300</text>
<text x="408.90" y="213.58" font-size="3.3" font-weight="bold" text-anchor="end" fill="#333">200</text>
<text x="408.90" y="228.88" font-size="3.3" font-weight="bold" text-anchor="end" fill="#333">100</text>
<text x="408.90" y="244.28" font-size="3.3" font-weight="bold" text-anchor="end" fill="#333">0</text>
<text x="0" y="0" transform="translate(417.00 249.80) rotate(-35)" font-size="3.1" font-weight="bold" text-anchor="middle" fill="#333">10</text>
<text x="419.10" y="247.70" font-size="2.1" font-weight="bold" text-anchor="middle" fill="#333">1</text>
<text x="0" y="0" transform="translate(428.30 249.80) rotate(-35)" font-size="3.1" font-weight="bold" text-anchor="middle" fill="#333">10</text>
<text x="430.40" y="247.70" font-size="2.1" font-weight="bold" text-anchor="middle" fill="#333">2</text>
<text x="0" y="0" transform="translate(441.10 249.80) rotate(-35)" font-size="3.1" font-weight="bold" text-anchor="middle" fill="#333">10</text>
<text x="443.20" y="247.70" font-size="2.1" font-weight="bold" text-anchor="middle" fill="#333">3</text>
<text x="0" y="0" transform="translate(454.80 249.80) rotate(-35)" font-size="3.1" font-weight="bold" text-anchor="middle" fill="#333">10</text>
<text x="456.90" y="247.70" font-size="2.1" font-weight="bold" text-anchor="middle" fill="#333">4</text>
<text x="0" y="0" transform="translate(468.10 249.80) rotate(-35)" font-size="3.1" font-weight="bold" text-anchor="middle" fill="#333">10</text>
<text x="470.20" y="247.70" font-size="2.1" font-weight="bold" text-anchor="middle" fill="#333">5</text>
<text x="0" y="0" transform="translate(481.30 249.80) rotate(-35)" font-size="3.1" font-weight="bold" text-anchor="middle" fill="#333">10</text>
<text x="483.40" y="247.70" font-size="2.1" font-weight="bold" text-anchor="middle" fill="#333">6</text>
<text x="0" y="0" transform="translate(491.50 249.80) rotate(-35)" font-size="3.1" font-weight="bold" text-anchor="middle" fill="#333">10</text>
<text x="493.60" y="247.70" font-size="2.1" font-weight="bold" text-anchor="middle" fill="#333">7</text>
<path d="M412.35 243.16 L412.35 239.69 L415.41 238.67 L418.47 235.61 L421.53 230.51 L423.57 225.41 L425.61 218.27 L427.65 208.06 L429.69 191.73 L431.33 177.45 L432.96 168.88 L434.18 172.35 L435.41 175.41 L436.63 187.65 L437.86 201.94 L439.08 216.22 L440.10 228.47 L441.12 236.63 L443.16 239.69 L446.02 241.73 L449.69 242.76 L452.96 243.16 Z" fill="#858585" stroke="none" stroke-width="1.0" stroke-linejoin="round"/>
<path d="M412.35 243.16 L435.82 243.16 L440.92 241.73 L445.00 239.69 L448.47 238.27 L450.71 235.61 L452.35 228.47 L453.78 214.18 L455.00 195.82 L456.02 179.49 L456.84 167.65 L457.45 165.20 L458.27 168.27 L459.49 177.45 L460.51 195.82 L461.53 216.22 L462.55 232.55 L463.78 240.71 L465.61 243.16 L495.00 243.16" fill="none" stroke="#000" stroke-width="1.6" stroke-linejoin="round"/>
<text x="453.60" y="268.40" font-size="11.4" font-weight="bold" text-anchor="middle" fill="#000" textLength="41.60" lengthAdjust="spacingAndGlyphs" stroke="#000" stroke-width="0.3" stroke-linejoin="round">DNAM-1</text>
<text x="22.30" y="283.20" font-size="12" font-weight="bold" text-anchor="start" fill="#000" stroke="#000" stroke-width="0.45" stroke-linejoin="round">E</text>
<text x="0" y="0" transform="translate(6.50 377.20) rotate(-90)" font-size="7.4" font-weight="bold" text-anchor="middle" fill="#000" textLength="21.80" lengthAdjust="spacingAndGlyphs" stroke="#000" stroke-width="0.2" stroke-linejoin="round">Count</text>
<rect x="18.60" y="305.80" width="53.80" height="55.90" fill="#fff" stroke="#b4b4b4" stroke-width="0.7"/>
<line x1="18.60" y1="305.80" x2="18.60" y2="362.20" stroke="#222" stroke-width="1.0" stroke-linecap="butt"/>
<line x1="18.10" y1="361.70" x2="72.40" y2="361.70" stroke="#222" stroke-width="1.1" stroke-linecap="butt"/>
<line x1="17.00" y1="308.70" x2="18.60" y2="308.70" stroke="#222" stroke-width="0.7" stroke-linecap="butt"/>
<line x1="17.00" y1="319.24" x2="18.60" y2="319.24" stroke="#222" stroke-width="0.7" stroke-linecap="butt"/>
<line x1="17.00" y1="329.78" x2="18.60" y2="329.78" stroke="#222" stroke-width="0.7" stroke-linecap="butt"/>
<line x1="17.00" y1="340.32" x2="18.60" y2="340.32" stroke="#222" stroke-width="0.7" stroke-linecap="butt"/>
<line x1="17.00" y1="350.86" x2="18.60" y2="350.86" stroke="#222" stroke-width="0.7" stroke-linecap="butt"/>
<line x1="17.00" y1="361.40" x2="18.60" y2="361.40" stroke="#222" stroke-width="0.7" stroke-linecap="butt"/>
<line x1="17.70" y1="310.81" x2="18.60" y2="310.81" stroke="#444" stroke-width="0.35" stroke-linecap="butt"/>
<line x1="17.70" y1="312.92" x2="18.60" y2="312.92" stroke="#444" stroke-width="0.35" stroke-linecap="butt"/>
<line x1="17.70" y1="315.02" x2="18.60" y2="315.02" stroke="#444" stroke-width="0.35" stroke-linecap="butt"/>
<line x1="17.70" y1="317.13" x2="18.60" y2="317.13" stroke="#444" stroke-width="0.35" stroke-linecap="butt"/>
<line x1="17.70" y1="321.35" x2="18.60" y2="321.35" stroke="#444" stroke-width="0.35" stroke-linecap="butt"/>
<line x1="17.70" y1="323.46" x2="18.60" y2="323.46" stroke="#444" stroke-width="0.35" stroke-linecap="butt"/>
<line x1="17.70" y1="325.56" x2="18.60" y2="325.56" stroke="#444" stroke-width="0.35" stroke-linecap="butt"/>
<line x1="17.70" y1="327.67" x2="18.60" y2="327.67" stroke="#444" stroke-width="0.35" stroke-linecap="butt"/>
<line x1="17.70" y1="331.89" x2="18.60" y2="331.89" stroke="#444" stroke-width="0.35" stroke-linecap="butt"/>
<line x1="17.70" y1="334.00" x2="18.60" y2="334.00" stroke="#444" stroke-width="0.35" stroke-linecap="butt"/>
<line x1="17.70" y1="336.10" x2="18.60" y2="336.10" stroke="#444" stroke-width="0.35" stroke-linecap="butt"/>
<line x1="17.70" y1="338.21" x2="18.60" y2="338.21" stroke="#444" stroke-width="0.35" stroke-linecap="butt"/>
<line x1="17.70" y1="342.43" x2="18.60" y2="342.43" stroke="#444" stroke-width="0.35" stroke-linecap="butt"/>
<line x1="17.70" y1="344.54" x2="18.60" y2="344.54" stroke="#444" stroke-width="0.35" stroke-linecap="butt"/>
<line x1="17.70" y1="346.64" x2="18.60" y2="346.64" stroke="#444" stroke-width="0.35" stroke-linecap="butt"/>
<line x1="17.70" y1="348.75" x2="18.60" y2="348.75" stroke="#444" stroke-width="0.35" stroke-linecap="butt"/>
<line x1="17.70" y1="352.97" x2="18.60" y2="352.97" stroke="#444" stroke-width="0.35" stroke-linecap="butt"/>
<line x1="17.70" y1="355.08" x2="18.60" y2="355.08" stroke="#444" stroke-width="0.35" stroke-linecap="butt"/>
<line x1="17.70" y1="357.18" x2="18.60" y2="357.18" stroke="#444" stroke-width="0.35" stroke-linecap="butt"/>
<line x1="17.70" y1="359.29" x2="18.60" y2="359.29" stroke="#444" stroke-width="0.35" stroke-linecap="butt"/>
<line x1="21.50" y1="361.70" x2="21.50" y2="363.30" stroke="#333" stroke-width="0.7" stroke-linecap="butt"/>
<line x1="29.70" y1="361.70" x2="29.70" y2="363.30" stroke="#333" stroke-width="0.7" stroke-linecap="butt"/>
<line x1="37.90" y1="361.70" x2="37.90" y2="363.30" stroke="#333" stroke-width="0.7" stroke-linecap="butt"/>
<line x1="46.10" y1="361.70" x2="46.10" y2="363.30" stroke="#333" stroke-width="0.7" stroke-linecap="butt"/>
<line x1="54.30" y1="361.70" x2="54.30" y2="363.30" stroke="#333" stroke-width="0.7" stroke-linecap="butt"/>
<line x1="62.50" y1="361.70" x2="62.50" y2="363.30" stroke="#333" stroke-width="0.7" stroke-linecap="butt"/>
<line x1="70.70" y1="361.70" x2="70.70" y2="363.30" stroke="#333" stroke-width="0.7" stroke-linecap="butt"/>
<line x1="14.00" y1="308.70" x2="15.80" y2="308.70" stroke="#555" stroke-width="0.7" stroke-linecap="butt"/>
<line x1="14.00" y1="319.24" x2="15.80" y2="319.24" stroke="#555" stroke-width="0.7" stroke-linecap="butt"/>
<line x1="14.00" y1="329.78" x2="15.80" y2="329.78" stroke="#555" stroke-width="0.7" stroke-linecap="butt"/>
<line x1="14.00" y1="340.32" x2="15.80" y2="340.32" stroke="#555" stroke-width="0.7" stroke-linecap="butt"/>
<line x1="14.00" y1="350.86" x2="15.80" y2="350.86" stroke="#555" stroke-width="0.7" stroke-linecap="butt"/>
<line x1="14.00" y1="361.40" x2="15.80" y2="361.40" stroke="#555" stroke-width="0.7" stroke-linecap="butt"/>
<line x1="20.40" y1="366.50" x2="22.20" y2="364.70" stroke="#555" stroke-width="0.8" stroke-linecap="butt"/>
<line x1="28.60" y1="366.50" x2="30.40" y2="364.70" stroke="#555" stroke-width="0.8" stroke-linecap="butt"/>
<line x1="36.80" y1="366.50" x2="38.60" y2="364.70" stroke="#555" stroke-width="0.8" stroke-linecap="butt"/>
<line x1="45.00" y1="366.50" x2="46.80" y2="364.70" stroke="#555" stroke-width="0.8" stroke-linecap="butt"/>
<line x1="53.20" y1="366.50" x2="55.00" y2="364.70" stroke="#555" stroke-width="0.8" stroke-linecap="butt"/>
<line x1="61.40" y1="366.50" x2="63.20" y2="364.70" stroke="#555" stroke-width="0.8" stroke-linecap="butt"/>
<line x1="69.60" y1="366.50" x2="71.40" y2="364.70" stroke="#555" stroke-width="0.8" stroke-linecap="butt"/>
<clipPath id="cULBP1"><rect x="18.60" y="353.10" width="17.10" height="8.60"/></clipPath>
<path d="M18.57 361.71 L20.00 360.00 L22.14 356.43 L24.29 350.00 L26.43 341.43 L27.86 332.86 L29.29 322.86 L30.29 314.29 L31.14 311.14 L32.14 313.57 L33.14 321.43 L34.00 331.43 L34.57 342.86 L35.43 352.86 L35.71 361.71 Z" fill="#8c8c8c" stroke="none" stroke-width="1.0" stroke-linejoin="round"/>
<g clip-path="url(#cULBP1)">
<path d="M18.57 361.71 L20.00 360.00 L22.14 356.43 L24.29 350.00 L26.43 341.43 L27.86 332.86 L29.29 322.86 L30.29 314.29 L31.14 311.14 L32.14 313.57 L33.14 321.43 L34.00 331.43 L34.57 342.86 L35.43 352.86 L35.71 361.71 Z" fill="#757575" stroke="none" stroke-width="1.0" stroke-linejoin="round"/>
</g>
<line x1="18.60" y1="353.10" x2="35.70" y2="353.10" stroke="#444" stroke-width="0.9" stroke-linecap="butt"/>
<line x1="18.60" y1="355.70" x2="72.40" y2="355.70" stroke="#484848" stroke-width="1.0" stroke-linecap="butt"/>
<path d="M18.57 361.71 L19.71 359.29 L21.71 355.71 L23.86 349.29 L26.00 340.71 L27.43 332.14 L28.86 322.14 L30.00 313.57 L31.14 309.71 L32.29 312.86 L33.43 321.43 L34.29 331.43 L35.00 342.86 L35.71 352.86 L36.29 361.71" fill="none" stroke="#111" stroke-width="1.0" stroke-dasharray="1.7 1.5"/>
<path d="M18.57 361.71 L20.71 360.71 L23.57 358.57 L26.43 354.29 L28.57 347.14 L30.71 335.71 L32.14 324.29 L33.57 315.71 L34.57 312.86 L35.14 311.43 L36.00 314.29 L37.14 317.14 L38.57 317.86 L39.29 318.57 L40.00 328.57 L41.14 341.43 L42.57 354.29 L44.00 360.71 L45.00 361.71 L72.43 361.71" fill="none" stroke="#000" stroke-width="1.1" stroke-linejoin="round"/>
<text x="66.90" y="317.90" font-size="8.0" font-weight="bold" text-anchor="end" fill="#000" textLength="14.80" lengthAdjust="spacingAndGlyphs" stroke="#000" stroke-width="0.15" stroke-linejoin="round">46.4</text>
<text x="66.90" y="329.20" font-size="8.0" font-weight="bold" text-anchor="end" fill="#000" textLength="14.80" lengthAdjust="spacingAndGlyphs" stroke="#000" stroke-width="0.15" stroke-linejoin="round">0.24</text>
<text x="46.10" y="375.80" font-size="7.2" font-weight="bold" text-anchor="middle" fill="#000" textLength="19.40" lengthAdjust="spacingAndGlyphs" stroke="#000" stroke-width="0.2" stroke-linejoin="round">ULBP1</text>
<rect x="82.10" y="305.80" width="53.60" height="55.90" fill="#fff" stroke="#b4b4b4" stroke-width="0.7"/>
<line x1="82.10" y1="305.80" x2="82.10" y2="362.20" stroke="#222" stroke-width="1.0" stroke-linecap="butt"/>
<line x1="81.60" y1="361.70" x2="135.70" y2="361.70" stroke="#222" stroke-width="1.1" stroke-linecap="butt"/>
<line x1="80.50" y1="308.70" x2="82.10" y2="308.70" stroke="#222" stroke-width="0.7" stroke-linecap="butt"/>
<line x1="80.50" y1="319.24" x2="82.10" y2="319.24" stroke="#222" stroke-width="0.7" stroke-linecap="butt"/>
<line x1="80.50" y1="329.78" x2="82.10" y2="329.78" stroke="#222" stroke-width="0.7" stroke-linecap="butt"/>
<line x1="80.50" y1="340.32" x2="82.10" y2="340.32" stroke="#222" stroke-width="0.7" stroke-linecap="butt"/>
<line x1="80.50" y1="350.86" x2="82.10" y2="350.86" stroke="#222" stroke-width="0.7" stroke-linecap="butt"/>
<line x1="80.50" y1="361.40" x2="82.10" y2="361.40" stroke="#222" stroke-width="0.7" stroke-linecap="butt"/>
<line x1="81.20" y1="310.81" x2="82.10" y2="310.81" stroke="#444" stroke-width="0.35" stroke-linecap="butt"/>
<line x1="81.20" y1="312.92" x2="82.10" y2="312.92" stroke="#444" stroke-width="0.35" stroke-linecap="butt"/>
<line x1="81.20" y1="315.02" x2="82.10" y2="315.02" stroke="#444" stroke-width="0.35" stroke-linecap="butt"/>
<line x1="81.20" y1="317.13" x2="82.10" y2="317.13" stroke="#444" stroke-width="0.35" stroke-linecap="butt"/>
<line x1="81.20" y1="321.35" x2="82.10" y2="321.35" stroke="#444" stroke-width="0.35" stroke-linecap="butt"/>
<line x1="81.20" y1="323.46" x2="82.10" y2="323.46" stroke="#444" stroke-width="0.35" stroke-linecap="butt"/>
<line x1="81.20" y1="325.56" x2="82.10" y2="325.56" stroke="#444" stroke-width="0.35" stroke-linecap="butt"/>
<line x1="81.20" y1="327.67" x2="82.10" y2="327.67" stroke="#444" stroke-width="0.35" stroke-linecap="butt"/>
<line x1="81.20" y1="331.89" x2="82.10" y2="331.89" stroke="#444" stroke-width="0.35" stroke-linecap="butt"/>
<line x1="81.20" y1="334.00" x2="82.10" y2="334.00" stroke="#444" stroke-width="0.35" stroke-linecap="butt"/>
<line x1="81.20" y1="336.10" x2="82.10" y2="336.10" stroke="#444" stroke-width="0.35" stroke-linecap="butt"/>
<line x1="81.20" y1="338.21" x2="82.10" y2="338.21" stroke="#444" stroke-width="0.35" stroke-linecap="butt"/>
<line x1="81.20" y1="342.43" x2="82.10" y2="342.43" stroke="#444" stroke-width="0.35" stroke-linecap="butt"/>
<line x1="81.20" y1="344.54" x2="82.10" y2="344.54" stroke="#444" stroke-width="0.35" stroke-linecap="butt"/>
<line x1="81.20" y1="346.64" x2="82.10" y2="346.64" stroke="#444" stroke-width="0.35" stroke-linecap="butt"/>
<line x1="81.20" y1="348.75" x2="82.10" y2="348.75" stroke="#444" stroke-width="0.35" stroke-linecap="butt"/>
<line x1="81.20" y1="352.97" x2="82.10" y2="352.97" stroke="#444" stroke-width="0.35" stroke-linecap="butt"/>
<line x1="81.20" y1="355.08" x2="82.10" y2="355.08" stroke="#444" stroke-width="0.35" stroke-linecap="butt"/>
<line x1="81.20" y1="357.18" x2="82.10" y2="357.18" stroke="#444" stroke-width="0.35" stroke-linecap="butt"/>
<line x1="81.20" y1="359.29" x2="82.10" y2="359.29" stroke="#444" stroke-width="0.35" stroke-linecap="butt"/>
<line x1="85.00" y1="361.70" x2="85.00" y2="363.30" stroke="#333" stroke-width="0.7" stroke-linecap="butt"/>
<line x1="93.20" y1="361.70" x2="93.20" y2="363.30" stroke="#333" stroke-width="0.7" stroke-linecap="butt"/>
<line x1="101.40" y1="361.70" x2="101.40" y2="363.30" stroke="#333" stroke-width="0.7" stroke-linecap="butt"/>
<line x1="109.60" y1="361.70" x2="109.60" y2="363.30" stroke="#333" stroke-width="0.7" stroke-linecap="butt"/>
<line x1="117.80" y1="361.70" x2="117.80" y2="363.30" stroke="#333" stroke-width="0.7" stroke-linecap="butt"/>
<line x1="126.00" y1="361.70" x2="126.00" y2="363.30" stroke="#333" stroke-width="0.7" stroke-linecap="butt"/>
<line x1="134.20" y1="361.70" x2="134.20" y2="363.30" stroke="#333" stroke-width="0.7" stroke-linecap="butt"/>
<line x1="77.50" y1="308.70" x2="79.30" y2="308.70" stroke="#555" stroke-width="0.7" stroke-linecap="butt"/>
<line x1="77.50" y1="319.24" x2="79.30" y2="319.24" stroke="#555" stroke-width="0.7" stroke-linecap="butt"/>
<line x1="77.50" y1="329.78" x2="79.30" y2="329.78" stroke="#555" stroke-width="0.7" stroke-linecap="butt"/>
<line x1="77.50" y1="340.32" x2="79.30" y2="340.32" stroke="#555" stroke-width="0.7" stroke-linecap="butt"/>
<line x1="77.50" y1="350.86" x2="79.30" y2="350.86" stroke="#555" stroke-width="0.7" stroke-linecap="butt"/>
<line x1="77.50" y1="361.40" x2="79.30" y2="361.40" stroke="#555" stroke-width="0.7" stroke-linecap="butt"/>
<line x1="83.90" y1="366.50" x2="85.70" y2="364.70" stroke="#555" stroke-width="0.8" stroke-linecap="butt"/>
<line x1="92.10" y1="366.50" x2="93.90" y2="364.70" stroke="#555" stroke-width="0.8" stroke-linecap="butt"/>
<line x1="100.30" y1="366.50" x2="102.10" y2="364.70" stroke="#555" stroke-width="0.8" stroke-linecap="butt"/>
<line x1="108.50" y1="366.50" x2="110.30" y2="364.70" stroke="#555" stroke-width="0.8" stroke-linecap="butt"/>
<line x1="116.70" y1="366.50" x2="118.50" y2="364.70" stroke="#555" stroke-width="0.8" stroke-linecap="butt"/>
<line x1="124.90" y1="366.50" x2="126.70" y2="364.70" stroke="#555" stroke-width="0.8" stroke-linecap="butt"/>
<line x1="133.10" y1="366.50" x2="134.90" y2="364.70" stroke="#555" stroke-width="0.8" stroke-linecap="butt"/>
<clipPath id="cULBP256"><rect x="82.10" y="347.90" width="20.00" height="13.80"/></clipPath>
<path d="M82.14 361.71 L82.14 358.57 L84.29 355.00 L87.14 350.71 L90.00 347.86 L92.14 342.86 L94.29 335.71 L96.00 325.71 L97.14 317.14 L98.29 311.43 L99.00 314.29 L99.71 322.86 L100.43 332.86 L101.14 342.86 L102.14 352.86 L103.14 359.29 L104.29 361.43 L107.14 361.71 Z" fill="#8c8c8c" stroke="none" stroke-width="1.0" stroke-linejoin="round"/>
<g clip-path="url(#cULBP256)">
<path d="M82.14 361.71 L82.14 358.57 L84.29 355.00 L87.14 350.71 L90.00 347.86 L92.14 342.86 L94.29 335.71 L96.00 325.71 L97.14 317.14 L98.29 311.43 L99.00 314.29 L99.71 322.86 L100.43 332.86 L101.14 342.86 L102.14 352.86 L103.14 359.29 L104.29 361.43 L107.14 361.71 Z" fill="#757575" stroke="none" stroke-width="1.0" stroke-linejoin="round"/>
</g>
<line x1="82.10" y1="347.90" x2="102.10" y2="347.90" stroke="#444" stroke-width="0.9" stroke-linecap="butt"/>
<line x1="82.10" y1="350.70" x2="135.70" y2="350.70" stroke="#484848" stroke-width="1.0" stroke-linecap="butt"/>
<path d="M82.14 361.71 L82.14 357.86 L84.29 354.29 L87.14 350.00 L90.00 347.14 L92.14 342.14 L94.29 335.00 L96.00 325.00 L97.14 316.43 L98.29 310.57 L99.29 314.29 L100.00 322.86 L100.71 332.86 L101.57 342.86 L102.57 352.86 L103.57 359.29 L104.71 361.71" fill="none" stroke="#111" stroke-width="1.0" stroke-dasharray="1.7 1.5"/>
<path d="M82.14 361.71 L82.43 358.86 L84.29 355.43 L87.14 351.14 L90.00 348.29 L92.14 343.57 L94.29 336.43 L95.71 328.57 L96.86 322.86 L97.86 320.00 L98.57 322.14 L99.43 327.14 L100.29 334.29 L101.14 343.57 L102.14 353.14 L103.14 359.43 L104.29 361.43 L107.14 361.71 L135.71 361.71" fill="none" stroke="#000" stroke-width="1.1" stroke-linejoin="round"/>
<text x="131.70" y="317.90" font-size="8.0" font-weight="bold" text-anchor="end" fill="#000" textLength="10.60" lengthAdjust="spacingAndGlyphs" stroke="#000" stroke-width="0.15" stroke-linejoin="round">0.0</text>
<text x="131.70" y="329.20" font-size="8.0" font-weight="bold" text-anchor="end" fill="#000" textLength="14.80" lengthAdjust="spacingAndGlyphs" stroke="#000" stroke-width="0.15" stroke-linejoin="round">0.44</text>
<text x="110.40" y="375.80" font-size="7.2" font-weight="bold" text-anchor="middle" fill="#000" textLength="33.80" lengthAdjust="spacingAndGlyphs" stroke="#000" stroke-width="0.2" stroke-linejoin="round">ULBP2/5/6</text>
<rect x="145.00" y="305.80" width="53.60" height="55.90" fill="#fff" stroke="#b4b4b4" stroke-width="0.7"/>
<line x1="145.00" y1="305.80" x2="145.00" y2="362.20" stroke="#222" stroke-width="1.0" stroke-linecap="butt"/>
<line x1="144.50" y1="361.70" x2="198.60" y2="361.70" stroke="#222" stroke-width="1.1" stroke-linecap="butt"/>
<line x1="143.40" y1="308.70" x2="145.00" y2="308.70" stroke="#222" stroke-width="0.7" stroke-linecap="butt"/>
<line x1="143.40" y1="319.24" x2="145.00" y2="319.24" stroke="#222" stroke-width="0.7" stroke-linecap="butt"/>
<line x1="143.40" y1="329.78" x2="145.00" y2="329.78" stroke="#222" stroke-width="0.7" stroke-linecap="butt"/>
<line x1="143.40" y1="340.32" x2="145.00" y2="340.32" stroke="#222" stroke-width="0.7" stroke-linecap="butt"/>
<line x1="143.40" y1="350.86" x2="145.00" y2="350.86" stroke="#222" stroke-width="0.7" stroke-linecap="butt"/>
<line x1="143.40" y1="361.40" x2="145.00" y2="361.40" stroke="#222" stroke-width="0.7" stroke-linecap="butt"/>
<line x1="144.10" y1="310.81" x2="145.00" y2="310.81" stroke="#444" stroke-width="0.35" stroke-linecap="butt"/>
<line x1="144.10" y1="312.92" x2="145.00" y2="312.92" stroke="#444" stroke-width="0.35" stroke-linecap="butt"/>
<line x1="144.10" y1="315.02" x2="145.00" y2="315.02" stroke="#444" stroke-width="0.35" stroke-linecap="butt"/>
<line x1="144.10" y1="317.13" x2="145.00" y2="317.13" stroke="#444" stroke-width="0.35" stroke-linecap="butt"/>
<line x1="144.10" y1="321.35" x2="145.00" y2="321.35" stroke="#444" stroke-width="0.35" stroke-linecap="butt"/>
<line x1="144.10" y1="323.46" x2="145.00" y2="323.46" stroke="#444" stroke-width="0.35" stroke-linecap="butt"/>
<line x1="144.10" y1="325.56" x2="145.00" y2="325.56" stroke="#444" stroke-width="0.35" stroke-linecap="butt"/>
<line x1="144.10" y1="327.67" x2="145.00" y2="327.67" stroke="#444" stroke-width="0.35" stroke-linecap="butt"/>
<line x1="144.10" y1="331.89" x2="145.00" y2="331.89" stroke="#444" stroke-width="0.35" stroke-linecap="butt"/>
<line x1="144.10" y1="334.00" x2="145.00" y2="334.00" stroke="#444" stroke-width="0.35" stroke-linecap="butt"/>
<line x1="144.10" y1="336.10" x2="145.00" y2="336.10" stroke="#444" stroke-width="0.35" stroke-linecap="butt"/>
<line x1="144.10" y1="338.21" x2="145.00" y2="338.21" stroke="#444" stroke-width="0.35" stroke-linecap="butt"/>
<line x1="144.10" y1="342.43" x2="145.00" y2="342.43" stroke="#444" stroke-width="0.35" stroke-linecap="butt"/>
<line x1="144.10" y1="344.54" x2="145.00" y2="344.54" stroke="#444" stroke-width="0.35" stroke-linecap="butt"/>
<line x1="144.10" y1="346.64" x2="145.00" y2="346.64" stroke="#444" stroke-width="0.35" stroke-linecap="butt"/>
<line x1="144.10" y1="348.75" x2="145.00" y2="348.75" stroke="#444" stroke-width="0.35" stroke-linecap="butt"/>
<line x1="144.10" y1="352.97" x2="145.00" y2="352.97" stroke="#444" stroke-width="0.35" stroke-linecap="butt"/>
<line x1="144.10" y1="355.08" x2="145.00" y2="355.08" stroke="#444" stroke-width="0.35" stroke-linecap="butt"/>
<line x1="144.10" y1="357.18" x2="145.00" y2="357.18" stroke="#444" stroke-width="0.35" stroke-linecap="butt"/>
<line x1="144.10" y1="359.29" x2="145.00" y2="359.29" stroke="#444" stroke-width="0.35" stroke-linecap="butt"/>
<line x1="147.90" y1="361.70" x2="147.90" y2="363.30" stroke="#333" stroke-width="0.7" stroke-linecap="butt"/>
<line x1="156.10" y1="361.70" x2="156.10" y2="363.30" stroke="#333" stroke-width="0.7" stroke-linecap="butt"/>
<line x1="164.30" y1="361.70" x2="164.30" y2="363.30" stroke="#333" stroke-width="0.7" stroke-linecap="butt"/>
<line x1="172.50" y1="361.70" x2="172.50" y2="363.30" stroke="#333" stroke-width="0.7" stroke-linecap="butt"/>
<line x1="180.70" y1="361.70" x2="180.70" y2="363.30" stroke="#333" stroke-width="0.7" stroke-linecap="butt"/>
<line x1="188.90" y1="361.70" x2="188.90" y2="363.30" stroke="#333" stroke-width="0.7" stroke-linecap="butt"/>
<line x1="197.10" y1="361.70" x2="197.10" y2="363.30" stroke="#333" stroke-width="0.7" stroke-linecap="butt"/>
<line x1="140.40" y1="308.70" x2="142.20" y2="308.70" stroke="#555" stroke-width="0.7" stroke-linecap="butt"/>
<line x1="140.40" y1="319.24" x2="142.20" y2="319.24" stroke="#555" stroke-width="0.7" stroke-linecap="butt"/>
<line x1="140.40" y1="329.78" x2="142.20" y2="329.78" stroke="#555" stroke-width="0.7" stroke-linecap="butt"/>
<line x1="140.40" y1="340.32" x2="142.20" y2="340.32" stroke="#555" stroke-width="0.7" stroke-linecap="butt"/>
<line x1="140.40" y1="350.86" x2="142.20" y2="350.86" stroke="#555" stroke-width="0.7" stroke-linecap="butt"/>
<line x1="140.40" y1="361.40" x2="142.20" y2="361.40" stroke="#555" stroke-width="0.7" stroke-linecap="butt"/>
<line x1="146.80" y1="366.50" x2="148.60" y2="364.70" stroke="#555" stroke-width="0.8" stroke-linecap="butt"/>
<line x1="155.00" y1="366.50" x2="156.80" y2="364.70" stroke="#555" stroke-width="0.8" stroke-linecap="butt"/>
<line x1="163.20" y1="366.50" x2="165.00" y2="364.70" stroke="#555" stroke-width="0.8" stroke-linecap="butt"/>
<line x1="171.40" y1="366.50" x2="173.20" y2="364.70" stroke="#555" stroke-width="0.8" stroke-linecap="butt"/>
<line x1="179.60" y1="366.50" x2="181.40" y2="364.70" stroke="#555" stroke-width="0.8" stroke-linecap="butt"/>
<line x1="187.80" y1="366.50" x2="189.60" y2="364.70" stroke="#555" stroke-width="0.8" stroke-linecap="butt"/>
<line x1="196.00" y1="366.50" x2="197.80" y2="364.70" stroke="#555" stroke-width="0.8" stroke-linecap="butt"/>
<clipPath id="cULBP3"><rect x="145.00" y="353.10" width="17.10" height="8.60"/></clipPath>
<path d="M145.00 361.71 L145.71 359.29 L147.86 355.71 L150.00 350.00 L152.14 341.43 L154.29 331.43 L156.14 320.00 L157.57 312.14 L158.29 310.71 L159.00 312.86 L159.71 320.00 L160.43 331.43 L161.14 342.86 L161.71 352.86 L162.43 360.00 L163.57 361.71 Z" fill="#8c8c8c" stroke="none" stroke-width="1.0" stroke-linejoin="round"/>
<g clip-path="url(#cULBP3)">
<path d="M145.00 361.71 L145.71 359.29 L147.86 355.71 L150.00 350.00 L152.14 341.43 L154.29 331.43 L156.14 320.00 L157.57 312.14 L158.29 310.71 L159.00 312.86 L159.71 320.00 L160.43 331.43 L161.14 342.86 L161.71 352.86 L162.43 360.00 L163.57 361.71 Z" fill="#757575" stroke="none" stroke-width="1.0" stroke-linejoin="round"/>
</g>
<line x1="145.00" y1="353.10" x2="162.10" y2="353.10" stroke="#444" stroke-width="0.9" stroke-linecap="butt"/>
<line x1="145.00" y1="355.70" x2="198.60" y2="355.70" stroke="#484848" stroke-width="1.0" stroke-linecap="butt"/>
<path d="M145.00 361.71 L145.57 358.57 L147.57 355.00 L149.71 349.29 L151.86 340.71 L154.00 330.71 L155.86 319.29 L157.43 311.43 L158.29 309.71 L159.29 312.86 L160.14 320.00 L160.86 331.43 L161.57 342.86 L162.14 352.86 L162.86 360.00 L164.00 361.71" fill="none" stroke="#111" stroke-width="1.0" stroke-dasharray="1.7 1.5"/>
<path d="M145.00 361.71 L147.86 361.14 L152.14 360.00 L155.71 357.14 L157.86 351.43 L159.57 342.86 L161.00 334.29 L162.43 325.71 L163.57 320.00 L165.00 314.29 L166.14 313.57 L167.14 312.14 L167.86 314.29 L168.57 318.57 L169.29 325.71 L170.00 335.71 L170.71 345.71 L171.43 354.29 L172.43 360.00 L173.57 361.71 L198.57 361.71" fill="none" stroke="#000" stroke-width="1.1" stroke-linejoin="round"/>
<text x="193.90" y="317.90" font-size="8.0" font-weight="bold" text-anchor="end" fill="#000" textLength="14.80" lengthAdjust="spacingAndGlyphs" stroke="#000" stroke-width="0.15" stroke-linejoin="round">67.6</text>
<text x="193.90" y="329.20" font-size="8.0" font-weight="bold" text-anchor="end" fill="#000" textLength="14.80" lengthAdjust="spacingAndGlyphs" stroke="#000" stroke-width="0.15" stroke-linejoin="round">1.05</text>
<text x="172.30" y="375.80" font-size="7.2" font-weight="bold" text-anchor="middle" fill="#000" textLength="20.00" lengthAdjust="spacingAndGlyphs" stroke="#000" stroke-width="0.2" stroke-linejoin="round">ULBP3</text>
<rect x="208.60" y="305.80" width="53.50" height="55.90" fill="#fff" stroke="#b4b4b4" stroke-width="0.7"/>
<line x1="208.60" y1="305.80" x2="208.60" y2="362.20" stroke="#222" stroke-width="1.0" stroke-linecap="butt"/>
<line x1="208.10" y1="361.70" x2="262.10" y2="361.70" stroke="#222" stroke-width="1.1" stroke-linecap="butt"/>
<line x1="207.00" y1="308.70" x2="208.60" y2="308.70" stroke="#222" stroke-width="0.7" stroke-linecap="butt"/>
<line x1="207.00" y1="319.24" x2="208.60" y2="319.24" stroke="#222" stroke-width="0.7" stroke-linecap="butt"/>
<line x1="207.00" y1="329.78" x2="208.60" y2="329.78" stroke="#222" stroke-width="0.7" stroke-linecap="butt"/>
<line x1="207.00" y1="340.32" x2="208.60" y2="340.32" stroke="#222" stroke-width="0.7" stroke-linecap="butt"/>
<line x1="207.00" y1="350.86" x2="208.60" y2="350.86" stroke="#222" stroke-width="0.7" stroke-linecap="butt"/>
<line x1="207.00" y1="361.40" x2="208.60" y2="361.40" stroke="#222" stroke-width="0.7" stroke-linecap="butt"/>
<line x1="207.70" y1="310.81" x2="208.60" y2="310.81" stroke="#444" stroke-width="0.35" stroke-linecap="butt"/>
<line x1="207.70" y1="312.92" x2="208.60" y2="312.92" stroke="#444" stroke-width="0.35" stroke-linecap="butt"/>
<line x1="207.70" y1="315.02" x2="208.60" y2="315.02" stroke="#444" stroke-width="0.35" stroke-linecap="butt"/>
<line x1="207.70" y1="317.13" x2="208.60" y2="317.13" stroke="#444" stroke-width="0.35" stroke-linecap="butt"/>
<line x1="207.70" y1="321.35" x2="208.60" y2="321.35" stroke="#444" stroke-width="0.35" stroke-linecap="butt"/>
<line x1="207.70" y1="323.46" x2="208.60" y2="323.46" stroke="#444" stroke-width="0.35" stroke-linecap="butt"/>
<line x1="207.70" y1="325.56" x2="208.60" y2="325.56" stroke="#444" stroke-width="0.35" stroke-linecap="butt"/>
<line x1="207.70" y1="327.67" x2="208.60" y2="327.67" stroke="#444" stroke-width="0.35" stroke-linecap="butt"/>
<line x1="207.70" y1="331.89" x2="208.60" y2="331.89" stroke="#444" stroke-width="0.35" stroke-linecap="butt"/>
<line x1="207.70" y1="334.00" x2="208.60" y2="334.00" stroke="#444" stroke-width="0.35" stroke-linecap="butt"/>
<line x1="207.70" y1="336.10" x2="208.60" y2="336.10" stroke="#444" stroke-width="0.35" stroke-linecap="butt"/>
<line x1="207.70" y1="338.21" x2="208.60" y2="338.21" stroke="#444" stroke-width="0.35" stroke-linecap="butt"/>
<line x1="207.70" y1="342.43" x2="208.60" y2="342.43" stroke="#444" stroke-width="0.35" stroke-linecap="butt"/>
<line x1="207.70" y1="344.54" x2="208.60" y2="344.54" stroke="#444" stroke-width="0.35" stroke-linecap="butt"/>
<line x1="207.70" y1="346.64" x2="208.60" y2="346.64" stroke="#444" stroke-width="0.35" stroke-linecap="butt"/>
<line x1="207.70" y1="348.75" x2="208.60" y2="348.75" stroke="#444" stroke-width="0.35" stroke-linecap="butt"/>
<line x1="207.70" y1="352.97" x2="208.60" y2="352.97" stroke="#444" stroke-width="0.35" stroke-linecap="butt"/>
<line x1="207.70" y1="355.08" x2="208.60" y2="355.08" stroke="#444" stroke-width="0.35" stroke-linecap="butt"/>
<line x1="207.70" y1="357.18" x2="208.60" y2="357.18" stroke="#444" stroke-width="0.35" stroke-linecap="butt"/>
<line x1="207.70" y1="359.29" x2="208.60" y2="359.29" stroke="#444" stroke-width="0.35" stroke-linecap="butt"/>
<line x1="211.50" y1="361.70" x2="211.50" y2="363.30" stroke="#333" stroke-width="0.7" stroke-linecap="butt"/>
<line x1="219.70" y1="361.70" x2="219.70" y2="363.30" stroke="#333" stroke-width="0.7" stroke-linecap="butt"/>
<line x1="227.90" y1="361.70" x2="227.90" y2="363.30" stroke="#333" stroke-width="0.7" stroke-linecap="butt"/>
<line x1="236.10" y1="361.70" x2="236.10" y2="363.30" stroke="#333" stroke-width="0.7" stroke-linecap="butt"/>
<line x1="244.30" y1="361.70" x2="244.30" y2="363.30" stroke="#333" stroke-width="0.7" stroke-linecap="butt"/>
<line x1="252.50" y1="361.70" x2="252.50" y2="363.30" stroke="#333" stroke-width="0.7" stroke-linecap="butt"/>
<line x1="260.70" y1="361.70" x2="260.70" y2="363.30" stroke="#333" stroke-width="0.7" stroke-linecap="butt"/>
<line x1="204.00" y1="308.70" x2="205.80" y2="308.70" stroke="#555" stroke-width="0.7" stroke-linecap="butt"/>
<line x1="204.00" y1="319.24" x2="205.80" y2="319.24" stroke="#555" stroke-width="0.7" stroke-linecap="butt"/>
<line x1="204.00" y1="329.78" x2="205.80" y2="329.78" stroke="#555" stroke-width="0.7" stroke-linecap="butt"/>
<line x1="204.00" y1="340.32" x2="205.80" y2="340.32" stroke="#555" stroke-width="0.7" stroke-linecap="butt"/>
<line x1="204.00" y1="350.86" x2="205.80" y2="350.86" stroke="#555" stroke-width="0.7" stroke-linecap="butt"/>
<line x1="204.00" y1="361.40" x2="205.80" y2="361.40" stroke="#555" stroke-width="0.7" stroke-linecap="butt"/>
<line x1="210.40" y1="366.50" x2="212.20" y2="364.70" stroke="#555" stroke-width="0.8" stroke-linecap="butt"/>
<line x1="218.60" y1="366.50" x2="220.40" y2="364.70" stroke="#555" stroke-width="0.8" stroke-linecap="butt"/>
<line x1="226.80" y1="366.50" x2="228.60" y2="364.70" stroke="#555" stroke-width="0.8" stroke-linecap="butt"/>
<line x1="235.00" y1="366.50" x2="236.80" y2="364.70" stroke="#555" stroke-width="0.8" stroke-linecap="butt"/>
<line x1="243.20" y1="366.50" x2="245.00" y2="364.70" stroke="#555" stroke-width="0.8" stroke-linecap="butt"/>
<line x1="251.40" y1="366.50" x2="253.20" y2="364.70" stroke="#555" stroke-width="0.8" stroke-linecap="butt"/>
<line x1="259.60" y1="366.50" x2="261.40" y2="364.70" stroke="#555" stroke-width="0.8" stroke-linecap="butt"/>
<clipPath id="cULBP4"><rect x="208.60" y="347.60" width="20.00" height="14.10"/></clipPath>
<path d="M208.57 361.71 L209.29 359.29 L212.14 355.71 L215.00 352.14 L217.86 347.14 L220.00 340.00 L221.86 328.57 L223.29 318.57 L224.29 312.14 L225.00 312.86 L225.71 318.57 L226.71 328.57 L227.57 338.57 L228.57 348.57 L229.57 356.43 L230.71 360.00 L232.86 361.14 L237.86 360.71 L240.71 360.00 L243.57 360.86 L252.14 361.43 L262.14 361.71 Z" fill="#8c8c8c" stroke="none" stroke-width="1.0" stroke-linejoin="round"/>
<g clip-path="url(#cULBP4)">
<path d="M208.57 361.71 L209.29 359.29 L212.14 355.71 L215.00 352.14 L217.86 347.14 L220.00 340.00 L221.86 328.57 L223.29 318.57 L224.29 312.14 L225.00 312.86 L225.71 318.57 L226.71 328.57 L227.57 338.57 L228.57 348.57 L229.57 356.43 L230.71 360.00 L232.86 361.14 L237.86 360.71 L240.71 360.00 L243.57 360.86 L252.14 361.43 L262.14 361.71 Z" fill="#757575" stroke="none" stroke-width="1.0" stroke-linejoin="round"/>
</g>
<line x1="208.60" y1="347.60" x2="228.60" y2="347.60" stroke="#444" stroke-width="0.9" stroke-linecap="butt"/>
<line x1="208.60" y1="350.70" x2="262.10" y2="350.70" stroke="#484848" stroke-width="1.0" stroke-linecap="butt"/>
<path d="M208.57 361.71 L210.00 355.71 L212.86 350.71 L215.71 347.14 L218.57 341.43 L220.71 332.86 L222.86 320.00 L224.29 311.14 L225.29 313.57 L226.14 320.00 L227.14 330.00 L228.14 340.00 L229.14 350.00 L230.14 357.14 L231.29 360.57 L233.29 361.43" fill="none" stroke="#111" stroke-width="1.0" stroke-dasharray="1.7 1.5"/>
<path d="M208.57 361.71 L210.71 359.29 L213.57 355.71 L216.43 351.43 L219.29 348.57 L221.43 342.86 L222.86 335.71 L224.29 328.57 L225.00 325.71 L225.71 328.57 L226.71 335.71 L227.86 345.71 L229.00 354.29 L230.14 359.29 L232.14 361.14 L237.86 360.71 L240.71 359.86 L243.57 360.86 L252.14 361.43 L262.14 361.71" fill="none" stroke="#000" stroke-width="1.1" stroke-linejoin="round"/>
<text x="258.30" y="317.90" font-size="8.0" font-weight="bold" text-anchor="end" fill="#000" textLength="14.80" lengthAdjust="spacingAndGlyphs" stroke="#000" stroke-width="0.15" stroke-linejoin="round">0.91</text>
<text x="258.30" y="329.20" font-size="8.0" font-weight="bold" text-anchor="end" fill="#000" textLength="14.80" lengthAdjust="spacingAndGlyphs" stroke="#000" stroke-width="0.15" stroke-linejoin="round">0.30</text>
<text x="235.90" y="375.80" font-size="7.2" font-weight="bold" text-anchor="middle" fill="#000" textLength="20.00" lengthAdjust="spacingAndGlyphs" stroke="#000" stroke-width="0.2" stroke-linejoin="round">ULBP4</text>
<rect x="18.60" y="379.10" width="53.80" height="55.50" fill="#fff" stroke="#b4b4b4" stroke-width="0.7"/>
<line x1="18.60" y1="379.10" x2="18.60" y2="435.10" stroke="#222" stroke-width="1.0" stroke-linecap="butt"/>
<line x1="18.10" y1="434.60" x2="72.40" y2="434.60" stroke="#222" stroke-width="1.1" stroke-linecap="butt"/>
<line x1="17.00" y1="382.00" x2="18.60" y2="382.00" stroke="#222" stroke-width="0.7" stroke-linecap="butt"/>
<line x1="17.00" y1="392.46" x2="18.60" y2="392.46" stroke="#222" stroke-width="0.7" stroke-linecap="butt"/>
<line x1="17.00" y1="402.92" x2="18.60" y2="402.92" stroke="#222" stroke-width="0.7" stroke-linecap="butt"/>
<line x1="17.00" y1="413.38" x2="18.60" y2="413.38" stroke="#222" stroke-width="0.7" stroke-linecap="butt"/>
<line x1="17.00" y1="423.84" x2="18.60" y2="423.84" stroke="#222" stroke-width="0.7" stroke-linecap="butt"/>
<line x1="17.00" y1="434.30" x2="18.60" y2="434.30" stroke="#222" stroke-width="0.7" stroke-linecap="butt"/>
<line x1="17.70" y1="384.09" x2="18.60" y2="384.09" stroke="#444" stroke-width="0.35" stroke-linecap="butt"/>
<line x1="17.70" y1="386.18" x2="18.60" y2="386.18" stroke="#444" stroke-width="0.35" stroke-linecap="butt"/>
<line x1="17.70" y1="388.28" x2="18.60" y2="388.28" stroke="#444" stroke-width="0.35" stroke-linecap="butt"/>
<line x1="17.70" y1="390.37" x2="18.60" y2="390.37" stroke="#444" stroke-width="0.35" stroke-linecap="butt"/>
<line x1="17.70" y1="394.55" x2="18.60" y2="394.55" stroke="#444" stroke-width="0.35" stroke-linecap="butt"/>
<line x1="17.70" y1="396.64" x2="18.60" y2="396.64" stroke="#444" stroke-width="0.35" stroke-linecap="butt"/>
<line x1="17.70" y1="398.74" x2="18.60" y2="398.74" stroke="#444" stroke-width="0.35" stroke-linecap="butt"/>
<line x1="17.70" y1="400.83" x2="18.60" y2="400.83" stroke="#444" stroke-width="0.35" stroke-linecap="butt"/>
<line x1="17.70" y1="405.01" x2="18.60" y2="405.01" stroke="#444" stroke-width="0.35" stroke-linecap="butt"/>
<line x1="17.70" y1="407.10" x2="18.60" y2="407.10" stroke="#444" stroke-width="0.35" stroke-linecap="butt"/>
<line x1="17.70" y1="409.20" x2="18.60" y2="409.20" stroke="#444" stroke-width="0.35" stroke-linecap="butt"/>
<line x1="17.70" y1="411.29" x2="18.60" y2="411.29" stroke="#444" stroke-width="0.35" stroke-linecap="butt"/>
<line x1="17.70" y1="415.47" x2="18.60" y2="415.47" stroke="#444" stroke-width="0.35" stroke-linecap="butt"/>
<line x1="17.70" y1="417.56" x2="18.60" y2="417.56" stroke="#444" stroke-width="0.35" stroke-linecap="butt"/>
<line x1="17.70" y1="419.66" x2="18.60" y2="419.66" stroke="#444" stroke-width="0.35" stroke-linecap="butt"/>
<line x1="17.70" y1="421.75" x2="18.60" y2="421.75" stroke="#444" stroke-width="0.35" stroke-linecap="butt"/>
<line x1="17.70" y1="425.93" x2="18.60" y2="425.93" stroke="#444" stroke-width="0.35" stroke-linecap="butt"/>
<line x1="17.70" y1="428.02" x2="18.60" y2="428.02" stroke="#444" stroke-width="0.35" stroke-linecap="butt"/>
<line x1="17.70" y1="430.12" x2="18.60" y2="430.12" stroke="#444" stroke-width="0.35" stroke-linecap="butt"/>
<line x1="17.70" y1="432.21" x2="18.60" y2="432.21" stroke="#444" stroke-width="0.35" stroke-linecap="butt"/>
<line x1="21.50" y1="434.60" x2="21.50" y2="436.20" stroke="#333" stroke-width="0.7" stroke-linecap="butt"/>
<line x1="29.70" y1="434.60" x2="29.70" y2="436.20" stroke="#333" stroke-width="0.7" stroke-linecap="butt"/>
<line x1="37.90" y1="434.60" x2="37.90" y2="436.20" stroke="#333" stroke-width="0.7" stroke-linecap="butt"/>
<line x1="46.10" y1="434.60" x2="46.10" y2="436.20" stroke="#333" stroke-width="0.7" stroke-linecap="butt"/>
<line x1="54.30" y1="434.60" x2="54.30" y2="436.20" stroke="#333" stroke-width="0.7" stroke-linecap="butt"/>
<line x1="62.50" y1="434.60" x2="62.50" y2="436.20" stroke="#333" stroke-width="0.7" stroke-linecap="butt"/>
<line x1="70.70" y1="434.60" x2="70.70" y2="436.20" stroke="#333" stroke-width="0.7" stroke-linecap="butt"/>
<line x1="14.00" y1="382.00" x2="15.80" y2="382.00" stroke="#555" stroke-width="0.7" stroke-linecap="butt"/>
<line x1="14.00" y1="392.46" x2="15.80" y2="392.46" stroke="#555" stroke-width="0.7" stroke-linecap="butt"/>
<line x1="14.00" y1="402.92" x2="15.80" y2="402.92" stroke="#555" stroke-width="0.7" stroke-linecap="butt"/>
<line x1="14.00" y1="413.38" x2="15.80" y2="413.38" stroke="#555" stroke-width="0.7" stroke-linecap="butt"/>
<line x1="14.00" y1="423.84" x2="15.80" y2="423.84" stroke="#555" stroke-width="0.7" stroke-linecap="butt"/>
<line x1="14.00" y1="434.30" x2="15.80" y2="434.30" stroke="#555" stroke-width="0.7" stroke-linecap="butt"/>
<line x1="20.40" y1="439.40" x2="22.20" y2="437.60" stroke="#555" stroke-width="0.8" stroke-linecap="butt"/>
<line x1="28.60" y1="439.40" x2="30.40" y2="437.60" stroke="#555" stroke-width="0.8" stroke-linecap="butt"/>
<line x1="36.80" y1="439.40" x2="38.60" y2="437.60" stroke="#555" stroke-width="0.8" stroke-linecap="butt"/>
<line x1="45.00" y1="439.40" x2="46.80" y2="437.60" stroke="#555" stroke-width="0.8" stroke-linecap="butt"/>
<line x1="53.20" y1="439.40" x2="55.00" y2="437.60" stroke="#555" stroke-width="0.8" stroke-linecap="butt"/>
<line x1="61.40" y1="439.40" x2="63.20" y2="437.60" stroke="#555" stroke-width="0.8" stroke-linecap="butt"/>
<line x1="69.60" y1="439.40" x2="71.40" y2="437.60" stroke="#555" stroke-width="0.8" stroke-linecap="butt"/>
<clipPath id="cMICAB"><rect x="18.60" y="420.60" width="21.40" height="14.00"/></clipPath>
<path d="M18.57 434.57 L19.29 432.00 L21.43 429.14 L24.29 427.00 L26.43 422.00 L28.57 414.86 L30.71 406.29 L32.57 396.29 L34.00 387.71 L35.00 384.14 L35.71 387.71 L36.43 393.43 L37.43 402.00 L38.29 412.00 L39.29 422.00 L40.29 430.57 L41.43 434.14 L42.86 434.57 Z" fill="#8c8c8c" stroke="none" stroke-width="1.0" stroke-linejoin="round"/>
<g clip-path="url(#cMICAB)">
<path d="M18.57 434.57 L19.29 432.00 L21.43 429.14 L24.29 427.00 L26.43 422.00 L28.57 414.86 L30.71 406.29 L32.57 396.29 L34.00 387.71 L35.00 384.14 L35.71 387.71 L36.43 393.43 L37.43 402.00 L38.29 412.00 L39.29 422.00 L40.29 430.57 L41.43 434.14 L42.86 434.57 Z" fill="#757575" stroke="none" stroke-width="1.0" stroke-linejoin="round"/>
</g>
<line x1="18.60" y1="420.60" x2="40.00" y2="420.60" stroke="#444" stroke-width="0.9" stroke-linecap="butt"/>
<line x1="18.60" y1="423.70" x2="72.40" y2="423.70" stroke="#484848" stroke-width="1.0" stroke-linecap="butt"/>
<path d="M18.57 434.57 L19.29 429.14 L20.71 426.29 L22.86 423.43 L25.00 420.57 L27.14 416.29 L29.29 410.57 L31.14 402.71 L32.86 393.43 L34.00 386.29 L35.00 383.43 L36.00 387.71 L36.86 393.43 L37.86 402.71 L38.86 412.71 L39.86 422.71 L40.71 431.29 L41.71 434.57" fill="none" stroke="#111" stroke-width="1.0" stroke-dasharray="1.7 1.5"/>
<path d="M18.57 434.57 L19.29 431.29 L20.71 429.86 L22.86 429.14 L25.00 428.43 L26.43 424.86 L27.86 417.71 L30.00 410.57 L32.14 402.00 L33.57 394.86 L35.00 390.57 L36.00 393.43 L36.86 400.57 L37.86 409.14 L38.86 419.14 L40.00 429.14 L41.14 433.71 L42.86 434.57 L72.43 434.57" fill="none" stroke="#000" stroke-width="1.1" stroke-linejoin="round"/>
<text x="66.90" y="391.20" font-size="8.0" font-weight="bold" text-anchor="end" fill="#000" textLength="14.80" lengthAdjust="spacingAndGlyphs" stroke="#000" stroke-width="0.15" stroke-linejoin="round">0.85</text>
<text x="66.90" y="402.60" font-size="8.0" font-weight="bold" text-anchor="end" fill="#000" textLength="14.80" lengthAdjust="spacingAndGlyphs" stroke="#000" stroke-width="0.15" stroke-linejoin="round">0.73</text>
<text x="45.10" y="447.60" font-size="7.2" font-weight="bold" text-anchor="middle" fill="#000" textLength="27.40" lengthAdjust="spacingAndGlyphs" stroke="#000" stroke-width="0.2" stroke-linejoin="round">MIC-A/B</text>
<rect x="82.10" y="379.10" width="53.60" height="55.50" fill="#fff" stroke="#b4b4b4" stroke-width="0.7"/>
<line x1="82.10" y1="379.10" x2="82.10" y2="435.10" stroke="#222" stroke-width="1.0" stroke-linecap="butt"/>
<line x1="81.60" y1="434.60" x2="135.70" y2="434.60" stroke="#222" stroke-width="1.1" stroke-linecap="butt"/>
<line x1="80.50" y1="382.00" x2="82.10" y2="382.00" stroke="#222" stroke-width="0.7" stroke-linecap="butt"/>
<line x1="80.50" y1="392.46" x2="82.10" y2="392.46" stroke="#222" stroke-width="0.7" stroke-linecap="butt"/>
<line x1="80.50" y1="402.92" x2="82.10" y2="402.92" stroke="#222" stroke-width="0.7" stroke-linecap="butt"/>
<line x1="80.50" y1="413.38" x2="82.10" y2="413.38" stroke="#222" stroke-width="0.7" stroke-linecap="butt"/>
<line x1="80.50" y1="423.84" x2="82.10" y2="423.84" stroke="#222" stroke-width="0.7" stroke-linecap="butt"/>
<line x1="80.50" y1="434.30" x2="82.10" y2="434.30" stroke="#222" stroke-width="0.7" stroke-linecap="butt"/>
<line x1="81.20" y1="384.09" x2="82.10" y2="384.09" stroke="#444" stroke-width="0.35" stroke-linecap="butt"/>
<line x1="81.20" y1="386.18" x2="82.10" y2="386.18" stroke="#444" stroke-width="0.35" stroke-linecap="butt"/>
<line x1="81.20" y1="388.28" x2="82.10" y2="388.28" stroke="#444" stroke-width="0.35" stroke-linecap="butt"/>
<line x1="81.20" y1="390.37" x2="82.10" y2="390.37" stroke="#444" stroke-width="0.35" stroke-linecap="butt"/>
<line x1="81.20" y1="394.55" x2="82.10" y2="394.55" stroke="#444" stroke-width="0.35" stroke-linecap="butt"/>
<line x1="81.20" y1="396.64" x2="82.10" y2="396.64" stroke="#444" stroke-width="0.35" stroke-linecap="butt"/>
<line x1="81.20" y1="398.74" x2="82.10" y2="398.74" stroke="#444" stroke-width="0.35" stroke-linecap="butt"/>
<line x1="81.20" y1="400.83" x2="82.10" y2="400.83" stroke="#444" stroke-width="0.35" stroke-linecap="butt"/>
<line x1="81.20" y1="405.01" x2="82.10" y2="405.01" stroke="#444" stroke-width="0.35" stroke-linecap="butt"/>
<line x1="81.20" y1="407.10" x2="82.10" y2="407.10" stroke="#444" stroke-width="0.35" stroke-linecap="butt"/>
<line x1="81.20" y1="409.20" x2="82.10" y2="409.20" stroke="#444" stroke-width="0.35" stroke-linecap="butt"/>
<line x1="81.20" y1="411.29" x2="82.10" y2="411.29" stroke="#444" stroke-width="0.35" stroke-linecap="butt"/>
<line x1="81.20" y1="415.47" x2="82.10" y2="415.47" stroke="#444" stroke-width="0.35" stroke-linecap="butt"/>
<line x1="81.20" y1="417.56" x2="82.10" y2="417.56" stroke="#444" stroke-width="0.35" stroke-linecap="butt"/>
<line x1="81.20" y1="419.66" x2="82.10" y2="419.66" stroke="#444" stroke-width="0.35" stroke-linecap="butt"/>
<line x1="81.20" y1="421.75" x2="82.10" y2="421.75" stroke="#444" stroke-width="0.35" stroke-linecap="butt"/>
<line x1="81.20" y1="425.93" x2="82.10" y2="425.93" stroke="#444" stroke-width="0.35" stroke-linecap="butt"/>
<line x1="81.20" y1="428.02" x2="82.10" y2="428.02" stroke="#444" stroke-width="0.35" stroke-linecap="butt"/>
<line x1="81.20" y1="430.12" x2="82.10" y2="430.12" stroke="#444" stroke-width="0.35" stroke-linecap="butt"/>
<line x1="81.20" y1="432.21" x2="82.10" y2="432.21" stroke="#444" stroke-width="0.35" stroke-linecap="butt"/>
<line x1="85.00" y1="434.60" x2="85.00" y2="436.20" stroke="#333" stroke-width="0.7" stroke-linecap="butt"/>
<line x1="93.20" y1="434.60" x2="93.20" y2="436.20" stroke="#333" stroke-width="0.7" stroke-linecap="butt"/>
<line x1="101.40" y1="434.60" x2="101.40" y2="436.20" stroke="#333" stroke-width="0.7" stroke-linecap="butt"/>
<line x1="109.60" y1="434.60" x2="109.60" y2="436.20" stroke="#333" stroke-width="0.7" stroke-linecap="butt"/>
<line x1="117.80" y1="434.60" x2="117.80" y2="436.20" stroke="#333" stroke-width="0.7" stroke-linecap="butt"/>
<line x1="126.00" y1="434.60" x2="126.00" y2="436.20" stroke="#333" stroke-width="0.7" stroke-linecap="butt"/>
<line x1="134.20" y1="434.60" x2="134.20" y2="436.20" stroke="#333" stroke-width="0.7" stroke-linecap="butt"/>
<line x1="77.50" y1="382.00" x2="79.30" y2="382.00" stroke="#555" stroke-width="0.7" stroke-linecap="butt"/>
<line x1="77.50" y1="392.46" x2="79.30" y2="392.46" stroke="#555" stroke-width="0.7" stroke-linecap="butt"/>
<line x1="77.50" y1="402.92" x2="79.30" y2="402.92" stroke="#555" stroke-width="0.7" stroke-linecap="butt"/>
<line x1="77.50" y1="413.38" x2="79.30" y2="413.38" stroke="#555" stroke-width="0.7" stroke-linecap="butt"/>
<line x1="77.50" y1="423.84" x2="79.30" y2="423.84" stroke="#555" stroke-width="0.7" stroke-linecap="butt"/>
<line x1="77.50" y1="434.30" x2="79.30" y2="434.30" stroke="#555" stroke-width="0.7" stroke-linecap="butt"/>
<line x1="83.90" y1="439.40" x2="85.70" y2="437.60" stroke="#555" stroke-width="0.8" stroke-linecap="butt"/>
<line x1="92.10" y1="439.40" x2="93.90" y2="437.60" stroke="#555" stroke-width="0.8" stroke-linecap="butt"/>
<line x1="100.30" y1="439.40" x2="102.10" y2="437.60" stroke="#555" stroke-width="0.8" stroke-linecap="butt"/>
<line x1="108.50" y1="439.40" x2="110.30" y2="437.60" stroke="#555" stroke-width="0.8" stroke-linecap="butt"/>
<line x1="116.70" y1="439.40" x2="118.50" y2="437.60" stroke="#555" stroke-width="0.8" stroke-linecap="butt"/>
<line x1="124.90" y1="439.40" x2="126.70" y2="437.60" stroke="#555" stroke-width="0.8" stroke-linecap="butt"/>
<line x1="133.10" y1="439.40" x2="134.90" y2="437.60" stroke="#555" stroke-width="0.8" stroke-linecap="butt"/>
<clipPath id="cCD112"><rect x="82.10" y="426.30" width="16.50" height="8.30"/></clipPath>
<path d="M82.14 434.57 L82.86 432.00 L85.00 427.71 L87.14 420.57 L89.29 410.57 L91.14 399.14 L92.57 389.14 L93.57 384.14 L94.29 386.29 L95.00 393.43 L95.71 403.43 L96.43 413.43 L97.14 422.00 L97.86 429.14 L98.86 433.43 L100.00 434.57 Z" fill="#8c8c8c" stroke="none" stroke-width="1.0" stroke-linejoin="round"/>
<g clip-path="url(#cCD112)">
<path d="M82.14 434.57 L82.86 432.00 L85.00 427.71 L87.14 420.57 L89.29 410.57 L91.14 399.14 L92.57 389.14 L93.57 384.14 L94.29 386.29 L95.00 393.43 L95.71 403.43 L96.43 413.43 L97.14 422.00 L97.86 429.14 L98.86 433.43 L100.00 434.57 Z" fill="#757575" stroke="none" stroke-width="1.0" stroke-linejoin="round"/>
</g>
<line x1="82.10" y1="426.30" x2="98.60" y2="426.30" stroke="#444" stroke-width="0.9" stroke-linecap="butt"/>
<line x1="82.10" y1="428.90" x2="135.70" y2="428.90" stroke="#484848" stroke-width="1.0" stroke-linecap="butt"/>
<path d="M82.14 434.57 L85.71 433.43 L89.29 429.14 L92.14 420.57 L94.29 410.57 L96.00 400.57 L97.43 392.00 L98.57 385.57 L99.29 387.71 L100.00 393.43 L100.71 400.57 L101.43 409.14 L102.14 417.71 L103.14 426.29 L104.29 432.00 L105.71 434.57" fill="none" stroke="#111" stroke-width="1.0" stroke-dasharray="1.7 1.5"/>
<path d="M82.14 434.57 L88.57 434.29 L92.86 433.43 L95.71 431.29 L97.86 427.00 L99.29 420.57 L100.71 410.57 L102.14 399.14 L103.14 390.57 L104.00 384.14 L104.43 382.71 L105.00 384.86 L105.71 392.00 L106.43 402.00 L107.14 413.43 L107.86 423.43 L108.57 430.57 L109.43 433.71 L110.71 434.57 L135.71 434.57" fill="none" stroke="#000" stroke-width="1.1" stroke-linejoin="round"/>
<text x="131.70" y="391.20" font-size="8.0" font-weight="bold" text-anchor="end" fill="#000" textLength="14.80" lengthAdjust="spacingAndGlyphs" stroke="#000" stroke-width="0.15" stroke-linejoin="round">87.2</text>
<text x="131.70" y="402.60" font-size="8.0" font-weight="bold" text-anchor="end" fill="#000" textLength="14.80" lengthAdjust="spacingAndGlyphs" stroke="#000" stroke-width="0.15" stroke-linejoin="round">13.1</text>
<text x="108.30" y="447.60" font-size="7.2" font-weight="bold" text-anchor="middle" fill="#000" textLength="20.80" lengthAdjust="spacingAndGlyphs" stroke="#000" stroke-width="0.2" stroke-linejoin="round">CD112</text>
<rect x="145.00" y="379.10" width="53.60" height="55.50" fill="#fff" stroke="#b4b4b4" stroke-width="0.7"/>
<line x1="145.00" y1="379.10" x2="145.00" y2="435.10" stroke="#222" stroke-width="1.0" stroke-linecap="butt"/>
<line x1="144.50" y1="434.60" x2="198.60" y2="434.60" stroke="#222" stroke-width="1.1" stroke-linecap="butt"/>
<line x1="143.40" y1="382.00" x2="145.00" y2="382.00" stroke="#222" stroke-width="0.7" stroke-linecap="butt"/>
<line x1="143.40" y1="392.46" x2="145.00" y2="392.46" stroke="#222" stroke-width="0.7" stroke-linecap="butt"/>
<line x1="143.40" y1="402.92" x2="145.00" y2="402.92" stroke="#222" stroke-width="0.7" stroke-linecap="butt"/>
<line x1="143.40" y1="413.38" x2="145.00" y2="413.38" stroke="#222" stroke-width="0.7" stroke-linecap="butt"/>
<line x1="143.40" y1="423.84" x2="145.00" y2="423.84" stroke="#222" stroke-width="0.7" stroke-linecap="butt"/>
<line x1="143.40" y1="434.30" x2="145.00" y2="434.30" stroke="#222" stroke-width="0.7" stroke-linecap="butt"/>
<line x1="144.10" y1="384.09" x2="145.00" y2="384.09" stroke="#444" stroke-width="0.35" stroke-linecap="butt"/>
<line x1="144.10" y1="386.18" x2="145.00" y2="386.18" stroke="#444" stroke-width="0.35" stroke-linecap="butt"/>
<line x1="144.10" y1="388.28" x2="145.00" y2="388.28" stroke="#444" stroke-width="0.35" stroke-linecap="butt"/>
<line x1="144.10" y1="390.37" x2="145.00" y2="390.37" stroke="#444" stroke-width="0.35" stroke-linecap="butt"/>
<line x1="144.10" y1="394.55" x2="145.00" y2="394.55" stroke="#444" stroke-width="0.35" stroke-linecap="butt"/>
<line x1="144.10" y1="396.64" x2="145.00" y2="396.64" stroke="#444" stroke-width="0.35" stroke-linecap="butt"/>
<line x1="144.10" y1="398.74" x2="145.00" y2="398.74" stroke="#444" stroke-width="0.35" stroke-linecap="butt"/>
<line x1="144.10" y1="400.83" x2="145.00" y2="400.83" stroke="#444" stroke-width="0.35" stroke-linecap="butt"/>
<line x1="144.10" y1="405.01" x2="145.00" y2="405.01" stroke="#444" stroke-width="0.35" stroke-linecap="butt"/>
<line x1="144.10" y1="407.10" x2="145.00" y2="407.10" stroke="#444" stroke-width="0.35" stroke-linecap="butt"/>
<line x1="144.10" y1="409.20" x2="145.00" y2="409.20" stroke="#444" stroke-width="0.35" stroke-linecap="butt"/>
<line x1="144.10" y1="411.29" x2="145.00" y2="411.29" stroke="#444" stroke-width="0.35" stroke-linecap="butt"/>
<line x1="144.10" y1="415.47" x2="145.00" y2="415.47" stroke="#444" stroke-width="0.35" stroke-linecap="butt"/>
<line x1="144.10" y1="417.56" x2="145.00" y2="417.56" stroke="#444" stroke-width="0.35" stroke-linecap="butt"/>
<line x1="144.10" y1="419.66" x2="145.00" y2="419.66" stroke="#444" stroke-width="0.35" stroke-linecap="butt"/>
<line x1="144.10" y1="421.75" x2="145.00" y2="421.75" stroke="#444" stroke-width="0.35" stroke-linecap="butt"/>
<line x1="144.10" y1="425.93" x2="145.00" y2="425.93" stroke="#444" stroke-width="0.35" stroke-linecap="butt"/>
<line x1="144.10" y1="428.02" x2="145.00" y2="428.02" stroke="#444" stroke-width="0.35" stroke-linecap="butt"/>
<line x1="144.10" y1="430.12" x2="145.00" y2="430.12" stroke="#444" stroke-width="0.35" stroke-linecap="butt"/>
<line x1="144.10" y1="432.21" x2="145.00" y2="432.21" stroke="#444" stroke-width="0.35" stroke-linecap="butt"/>
<line x1="147.90" y1="434.60" x2="147.90" y2="436.20" stroke="#333" stroke-width="0.7" stroke-linecap="butt"/>
<line x1="156.10" y1="434.60" x2="156.10" y2="436.20" stroke="#333" stroke-width="0.7" stroke-linecap="butt"/>
<line x1="164.30" y1="434.60" x2="164.30" y2="436.20" stroke="#333" stroke-width="0.7" stroke-linecap="butt"/>
<line x1="172.50" y1="434.60" x2="172.50" y2="436.20" stroke="#333" stroke-width="0.7" stroke-linecap="butt"/>
<line x1="180.70" y1="434.60" x2="180.70" y2="436.20" stroke="#333" stroke-width="0.7" stroke-linecap="butt"/>
<line x1="188.90" y1="434.60" x2="188.90" y2="436.20" stroke="#333" stroke-width="0.7" stroke-linecap="butt"/>
<line x1="197.10" y1="434.60" x2="197.10" y2="436.20" stroke="#333" stroke-width="0.7" stroke-linecap="butt"/>
<line x1="140.40" y1="382.00" x2="142.20" y2="382.00" stroke="#555" stroke-width="0.7" stroke-linecap="butt"/>
<line x1="140.40" y1="392.46" x2="142.20" y2="392.46" stroke="#555" stroke-width="0.7" stroke-linecap="butt"/>
<line x1="140.40" y1="402.92" x2="142.20" y2="402.92" stroke="#555" stroke-width="0.7" stroke-linecap="butt"/>
<line x1="140.40" y1="413.38" x2="142.20" y2="413.38" stroke="#555" stroke-width="0.7" stroke-linecap="butt"/>
<line x1="140.40" y1="423.84" x2="142.20" y2="423.84" stroke="#555" stroke-width="0.7" stroke-linecap="butt"/>
<line x1="140.40" y1="434.30" x2="142.20" y2="434.30" stroke="#555" stroke-width="0.7" stroke-linecap="butt"/>
<line x1="146.80" y1="439.40" x2="148.60" y2="437.60" stroke="#555" stroke-width="0.8" stroke-linecap="butt"/>
<line x1="155.00" y1="439.40" x2="156.80" y2="437.60" stroke="#555" stroke-width="0.8" stroke-linecap="butt"/>
<line x1="163.20" y1="439.40" x2="165.00" y2="437.60" stroke="#555" stroke-width="0.8" stroke-linecap="butt"/>
<line x1="171.40" y1="439.40" x2="173.20" y2="437.60" stroke="#555" stroke-width="0.8" stroke-linecap="butt"/>
<line x1="179.60" y1="439.40" x2="181.40" y2="437.60" stroke="#555" stroke-width="0.8" stroke-linecap="butt"/>
<line x1="187.80" y1="439.40" x2="189.60" y2="437.60" stroke="#555" stroke-width="0.8" stroke-linecap="butt"/>
<line x1="196.00" y1="439.40" x2="197.80" y2="437.60" stroke="#555" stroke-width="0.8" stroke-linecap="butt"/>
<clipPath id="cCD155"><rect x="145.00" y="426.00" width="17.90" height="8.60"/></clipPath>
<path d="M145.00 434.57 L145.71 432.00 L147.86 427.71 L150.00 420.57 L152.14 410.57 L154.29 399.14 L156.14 389.14 L157.43 384.14 L158.14 386.29 L158.86 393.43 L159.57 403.43 L160.29 413.43 L161.00 422.00 L161.71 429.14 L162.57 433.43 L163.57 434.57 Z" fill="#8c8c8c" stroke="none" stroke-width="1.0" stroke-linejoin="round"/>
<g clip-path="url(#cCD155)">
<path d="M145.00 434.57 L145.71 432.00 L147.86 427.71 L150.00 420.57 L152.14 410.57 L154.29 399.14 L156.14 389.14 L157.43 384.14 L158.14 386.29 L158.86 393.43 L159.57 403.43 L160.29 413.43 L161.00 422.00 L161.71 429.14 L162.57 433.43 L163.57 434.57 Z" fill="#757575" stroke="none" stroke-width="1.0" stroke-linejoin="round"/>
</g>
<line x1="145.00" y1="426.00" x2="162.90" y2="426.00" stroke="#444" stroke-width="0.9" stroke-linecap="butt"/>
<line x1="145.00" y1="428.90" x2="198.60" y2="428.90" stroke="#484848" stroke-width="1.0" stroke-linecap="butt"/>
<path d="M145.00 434.57 L149.29 432.71 L152.86 427.71 L155.71 419.14 L157.86 407.71 L159.29 397.71 L160.43 389.14 L161.43 385.57 L162.14 387.71 L162.86 394.86 L163.57 404.86 L164.29 414.86 L165.00 423.43 L165.71 430.57 L166.71 434.57" fill="none" stroke="#111" stroke-width="1.0" stroke-dasharray="1.7 1.5"/>
<path d="M145.00 434.57 L153.57 434.29 L157.86 432.71 L160.43 429.14 L162.14 422.00 L163.29 412.00 L164.29 400.57 L165.29 390.57 L166.14 385.57 L167.14 383.43 L167.71 386.29 L168.29 396.29 L168.86 409.14 L169.43 422.00 L170.14 432.00 L171.00 434.57 L198.57 434.57" fill="none" stroke="#000" stroke-width="1.1" stroke-linejoin="round"/>
<text x="193.60" y="391.20" font-size="8.0" font-weight="bold" text-anchor="end" fill="#000" textLength="14.80" lengthAdjust="spacingAndGlyphs" stroke="#000" stroke-width="0.15" stroke-linejoin="round">89.2</text>
<text x="193.60" y="402.60" font-size="8.0" font-weight="bold" text-anchor="end" fill="#000" textLength="14.80" lengthAdjust="spacingAndGlyphs" stroke="#000" stroke-width="0.15" stroke-linejoin="round">7.91</text>
<text x="172.60" y="447.60" font-size="7.2" font-weight="bold" text-anchor="middle" fill="#000" textLength="20.10" lengthAdjust="spacingAndGlyphs" stroke="#000" stroke-width="0.2" stroke-linejoin="round">CD155</text>
<text x="281.40" y="283.20" font-size="12" font-weight="bold" text-anchor="start" fill="#000" stroke="#000" stroke-width="0.45" stroke-linejoin="round">F</text>
<text x="0" y="0" transform="translate(303.20 390.40) rotate(-90)" font-size="10.3" font-weight="bold" text-anchor="start" fill="#000" stroke="#000" stroke-width="0.2" stroke-linejoin="round">% Inhibition of killing</text>
<line x1="324.40" y1="298.70" x2="324.40" y2="379.20" stroke="#000" stroke-width="1.45" stroke-linecap="butt"/>
<line x1="321.00" y1="378.50" x2="324.40" y2="378.50" stroke="#000" stroke-width="1.1" stroke-linecap="butt"/>
<text x="321.10" y="381.51" font-size="8.4" font-weight="bold" text-anchor="end" fill="#000">1</text>
<line x1="321.00" y1="338.90" x2="324.40" y2="338.90" stroke="#000" stroke-width="1.1" stroke-linecap="butt"/>
<text x="321.10" y="341.91" font-size="8.4" font-weight="bold" text-anchor="end" fill="#000">10</text>
<line x1="321.00" y1="299.30" x2="324.40" y2="299.30" stroke="#000" stroke-width="1.1" stroke-linecap="butt"/>
<text x="321.10" y="302.31" font-size="8.4" font-weight="bold" text-anchor="end" fill="#000">100</text>
<line x1="322.50" y1="366.58" x2="324.40" y2="366.58" stroke="#000" stroke-width="0.7" stroke-linecap="butt"/>
<line x1="322.50" y1="359.61" x2="324.40" y2="359.61" stroke="#000" stroke-width="0.7" stroke-linecap="butt"/>
<line x1="322.50" y1="354.66" x2="324.40" y2="354.66" stroke="#000" stroke-width="0.7" stroke-linecap="butt"/>
<line x1="322.50" y1="350.82" x2="324.40" y2="350.82" stroke="#000" stroke-width="0.7" stroke-linecap="butt"/>
<line x1="322.50" y1="347.69" x2="324.40" y2="347.69" stroke="#000" stroke-width="0.7" stroke-linecap="butt"/>
<line x1="322.50" y1="345.03" x2="324.40" y2="345.03" stroke="#000" stroke-width="0.7" stroke-linecap="butt"/>
<line x1="322.50" y1="342.74" x2="324.40" y2="342.74" stroke="#000" stroke-width="0.7" stroke-linecap="butt"/>
<line x1="322.50" y1="340.71" x2="324.40" y2="340.71" stroke="#000" stroke-width="0.7" stroke-linecap="butt"/>
<line x1="322.50" y1="326.98" x2="324.40" y2="326.98" stroke="#000" stroke-width="0.7" stroke-linecap="butt"/>
<line x1="322.50" y1="320.01" x2="324.40" y2="320.01" stroke="#000" stroke-width="0.7" stroke-linecap="butt"/>
<line x1="322.50" y1="315.06" x2="324.40" y2="315.06" stroke="#000" stroke-width="0.7" stroke-linecap="butt"/>
<line x1="322.50" y1="311.22" x2="324.40" y2="311.22" stroke="#000" stroke-width="0.7" stroke-linecap="butt"/>
<line x1="322.50" y1="308.09" x2="324.40" y2="308.09" stroke="#000" stroke-width="0.7" stroke-linecap="butt"/>
<line x1="322.50" y1="305.43" x2="324.40" y2="305.43" stroke="#000" stroke-width="0.7" stroke-linecap="butt"/>
<line x1="322.50" y1="303.14" x2="324.40" y2="303.14" stroke="#000" stroke-width="0.7" stroke-linecap="butt"/>
<line x1="322.50" y1="301.11" x2="324.40" y2="301.11" stroke="#000" stroke-width="0.7" stroke-linecap="butt"/>
<line x1="323.70" y1="378.50" x2="519.00" y2="378.50" stroke="#000" stroke-width="1.4" stroke-linecap="butt"/>
<line x1="331.80" y1="378.50" x2="331.80" y2="382.20" stroke="#000" stroke-width="1.15" stroke-linecap="butt"/>
<line x1="345.70" y1="378.50" x2="345.70" y2="382.20" stroke="#000" stroke-width="1.15" stroke-linecap="butt"/>
<line x1="359.60" y1="378.50" x2="359.60" y2="382.20" stroke="#000" stroke-width="1.15" stroke-linecap="butt"/>
<line x1="373.50" y1="378.50" x2="373.50" y2="382.20" stroke="#000" stroke-width="1.15" stroke-linecap="butt"/>
<line x1="387.40" y1="378.50" x2="387.40" y2="382.20" stroke="#000" stroke-width="1.15" stroke-linecap="butt"/>
<line x1="401.30" y1="378.50" x2="401.30" y2="382.20" stroke="#000" stroke-width="1.15" stroke-linecap="butt"/>
<line x1="415.20" y1="378.50" x2="415.20" y2="382.20" stroke="#000" stroke-width="1.15" stroke-linecap="butt"/>
<line x1="429.10" y1="378.50" x2="429.10" y2="382.20" stroke="#000" stroke-width="1.15" stroke-linecap="butt"/>
<line x1="443.00" y1="378.50" x2="443.00" y2="382.20" stroke="#000" stroke-width="1.15" stroke-linecap="butt"/>
<line x1="456.90" y1="378.50" x2="456.90" y2="382.20" stroke="#000" stroke-width="1.15" stroke-linecap="butt"/>
<line x1="470.80" y1="378.50" x2="470.80" y2="382.20" stroke="#000" stroke-width="1.15" stroke-linecap="butt"/>
<line x1="484.70" y1="378.50" x2="484.70" y2="382.20" stroke="#000" stroke-width="1.15" stroke-linecap="butt"/>
<line x1="498.60" y1="378.50" x2="498.60" y2="382.20" stroke="#000" stroke-width="1.15" stroke-linecap="butt"/>
<line x1="512.50" y1="378.50" x2="512.50" y2="382.20" stroke="#000" stroke-width="1.15" stroke-linecap="butt"/>
<text x="0" y="0" transform="translate(335.70 383.40) rotate(-90)" font-size="10.8" font-weight="bold" text-anchor="end" fill="#000">IgG1</text>
<text x="0" y="0" transform="translate(349.60 383.40) rotate(-90)" font-size="10.8" font-weight="bold" text-anchor="end" fill="#000">NKG2D</text>
<text x="0" y="0" transform="translate(363.50 383.40) rotate(-90)" font-size="10.8" font-weight="bold" text-anchor="end" fill="#000">DNAM-1</text>
<text x="0" y="0" transform="translate(377.40 383.40) rotate(-90)" font-size="10.8" font-weight="bold" text-anchor="end" fill="#000" textLength="87.00" lengthAdjust="spacingAndGlyphs">DNAM-1+NKG2D</text>
<rect x="340.90" y="328.10" width="9.60" height="50.40" fill="#fff" stroke="#000" stroke-width="1.1"/>
<line x1="345.70" y1="316.10" x2="345.70" y2="328.10" stroke="#000" stroke-width="1.0" stroke-linecap="butt"/>
<line x1="343.10" y1="316.10" x2="348.30" y2="316.10" stroke="#000" stroke-width="1.0" stroke-linecap="butt"/>
<rect x="354.80" y="306.80" width="9.60" height="71.70" fill="#fff" stroke="#000" stroke-width="1.1"/>
<line x1="359.60" y1="303.70" x2="359.60" y2="306.80" stroke="#000" stroke-width="1.0" stroke-linecap="butt"/>
<line x1="357.00" y1="303.70" x2="362.20" y2="303.70" stroke="#000" stroke-width="1.0" stroke-linecap="butt"/>
<rect x="368.70" y="302.40" width="9.60" height="76.10" fill="#fff" stroke="#000" stroke-width="1.1"/>
<line x1="373.50" y1="299.50" x2="373.50" y2="302.40" stroke="#000" stroke-width="1.0" stroke-linecap="butt"/>
<line x1="370.90" y1="299.50" x2="376.10" y2="299.50" stroke="#000" stroke-width="1.0" stroke-linecap="butt"/>
<line x1="331.20" y1="285.60" x2="331.20" y2="373.70" stroke="#000" stroke-width="1.2" stroke-linecap="butt"/>
<line x1="331.20" y1="286.20" x2="374.30" y2="286.20" stroke="#000" stroke-width="1.2" stroke-linecap="butt"/>
<line x1="374.30" y1="285.60" x2="374.30" y2="296.20" stroke="#000" stroke-width="1.2" stroke-linecap="butt"/>
<text x="350.80" y="286.00" font-size="7.4" font-weight="bold" text-anchor="middle" fill="#000">***</text>
<line x1="331.20" y1="295.60" x2="360.40" y2="295.60" stroke="#000" stroke-width="1.2" stroke-linecap="butt"/>
<line x1="360.40" y1="295.00" x2="360.40" y2="300.80" stroke="#000" stroke-width="1.2" stroke-linecap="butt"/>
<text x="344.90" y="293.40" font-size="7.4" font-weight="bold" text-anchor="middle" fill="#000">**</text>
<line x1="331.20" y1="306.60" x2="346.50" y2="306.60" stroke="#000" stroke-width="1.2" stroke-linecap="butt"/>
<line x1="346.50" y1="306.00" x2="346.50" y2="311.50" stroke="#000" stroke-width="1.2" stroke-linecap="butt"/>
<text x="338.80" y="303.85" font-size="7.4" font-weight="bold" text-anchor="middle" fill="#000" textLength="7.80" lengthAdjust="spacingAndGlyphs">ns</text>
<line x1="330.00" y1="477.20" x2="378.30" y2="477.20" stroke="#000" stroke-width="1.2" stroke-linecap="butt"/>
<text x="354.45" y="490.30" font-size="11.0" font-weight="bold" text-anchor="middle" fill="#000">090239</text>
<text x="0" y="0" transform="translate(405.20 383.40) rotate(-90)" font-size="10.8" font-weight="bold" text-anchor="end" fill="#000">IgG1</text>
<text x="0" y="0" transform="translate(419.10 383.40) rotate(-90)" font-size="10.8" font-weight="bold" text-anchor="end" fill="#000">NKG2D</text>
<text x="0" y="0" transform="translate(433.00 383.40) rotate(-90)" font-size="10.8" font-weight="bold" text-anchor="end" fill="#000">DNAM-1</text>
<text x="0" y="0" transform="translate(446.90 383.40) rotate(-90)" font-size="10.8" font-weight="bold" text-anchor="end" fill="#000" textLength="87.00" lengthAdjust="spacingAndGlyphs">DNAM-1+NKG2D</text>
<rect x="410.40" y="351.60" width="9.60" height="26.90" fill="#fff" stroke="#000" stroke-width="1.1"/>
<line x1="415.20" y1="347.70" x2="415.20" y2="351.60" stroke="#000" stroke-width="1.0" stroke-linecap="butt"/>
<line x1="412.60" y1="347.70" x2="417.80" y2="347.70" stroke="#000" stroke-width="1.0" stroke-linecap="butt"/>
<rect x="424.30" y="339.40" width="9.60" height="39.10" fill="#fff" stroke="#000" stroke-width="1.1"/>
<line x1="429.10" y1="337.80" x2="429.10" y2="339.40" stroke="#000" stroke-width="1.0" stroke-linecap="butt"/>
<line x1="426.50" y1="337.80" x2="431.70" y2="337.80" stroke="#000" stroke-width="1.0" stroke-linecap="butt"/>
<rect x="438.20" y="336.00" width="9.60" height="42.50" fill="#fff" stroke="#000" stroke-width="1.1"/>
<line x1="443.00" y1="334.20" x2="443.00" y2="336.00" stroke="#000" stroke-width="1.0" stroke-linecap="butt"/>
<line x1="440.40" y1="334.20" x2="445.60" y2="334.20" stroke="#000" stroke-width="1.0" stroke-linecap="butt"/>
<line x1="400.70" y1="318.30" x2="400.70" y2="373.70" stroke="#000" stroke-width="1.2" stroke-linecap="butt"/>
<line x1="400.70" y1="318.90" x2="443.80" y2="318.90" stroke="#000" stroke-width="1.2" stroke-linecap="butt"/>
<line x1="443.80" y1="318.30" x2="443.80" y2="333.40" stroke="#000" stroke-width="1.2" stroke-linecap="butt"/>
<text x="421.80" y="316.20" font-size="7.4" font-weight="bold" text-anchor="middle" fill="#000">****</text>
<line x1="400.70" y1="326.70" x2="429.90" y2="326.70" stroke="#000" stroke-width="1.2" stroke-linecap="butt"/>
<line x1="429.90" y1="326.10" x2="429.90" y2="336.80" stroke="#000" stroke-width="1.2" stroke-linecap="butt"/>
<text x="411.50" y="326.60" font-size="7.4" font-weight="bold" text-anchor="middle" fill="#000">****</text>
<line x1="400.70" y1="337.30" x2="416.00" y2="337.30" stroke="#000" stroke-width="1.2" stroke-linecap="butt"/>
<line x1="416.00" y1="336.70" x2="416.00" y2="346.40" stroke="#000" stroke-width="1.2" stroke-linecap="butt"/>
<text x="408.60" y="335.00" font-size="7.4" font-weight="bold" text-anchor="middle" fill="#000">**</text>
<line x1="399.50" y1="477.20" x2="447.80" y2="477.20" stroke="#000" stroke-width="1.2" stroke-linecap="butt"/>
<text x="423.95" y="490.30" font-size="11.0" font-weight="bold" text-anchor="middle" fill="#000">110164</text>
<text x="0" y="0" transform="translate(474.70 383.40) rotate(-90)" font-size="10.8" font-weight="bold" text-anchor="end" fill="#000">IgG1</text>
<text x="0" y="0" transform="translate(488.60 383.40) rotate(-90)" font-size="10.8" font-weight="bold" text-anchor="end" fill="#000">NKG2D</text>
<text x="0" y="0" transform="translate(502.50 383.40) rotate(-90)" font-size="10.8" font-weight="bold" text-anchor="end" fill="#000">DNAM-1</text>
<text x="0" y="0" transform="translate(516.40 383.40) rotate(-90)" font-size="10.8" font-weight="bold" text-anchor="end" fill="#000" textLength="87.00" lengthAdjust="spacingAndGlyphs">DNAM-1+NKG2D</text>
<rect x="479.90" y="350.80" width="9.60" height="27.70" fill="#fff" stroke="#000" stroke-width="1.1"/>
<line x1="484.70" y1="347.70" x2="484.70" y2="350.80" stroke="#000" stroke-width="1.0" stroke-linecap="butt"/>
<line x1="482.10" y1="347.70" x2="487.30" y2="347.70" stroke="#000" stroke-width="1.0" stroke-linecap="butt"/>
<rect x="493.80" y="338.10" width="9.60" height="40.40" fill="#fff" stroke="#000" stroke-width="1.1"/>
<line x1="498.60" y1="336.80" x2="498.60" y2="338.10" stroke="#000" stroke-width="1.0" stroke-linecap="butt"/>
<line x1="496.00" y1="336.80" x2="501.20" y2="336.80" stroke="#000" stroke-width="1.0" stroke-linecap="butt"/>
<rect x="507.70" y="325.10" width="9.60" height="53.40" fill="#fff" stroke="#000" stroke-width="1.1"/>
<line x1="512.50" y1="323.50" x2="512.50" y2="325.10" stroke="#000" stroke-width="1.0" stroke-linecap="butt"/>
<line x1="509.90" y1="323.50" x2="515.10" y2="323.50" stroke="#000" stroke-width="1.0" stroke-linecap="butt"/>
<line x1="470.20" y1="309.00" x2="470.20" y2="373.70" stroke="#000" stroke-width="1.2" stroke-linecap="butt"/>
<line x1="470.20" y1="309.60" x2="513.30" y2="309.60" stroke="#000" stroke-width="1.2" stroke-linecap="butt"/>
<line x1="513.30" y1="309.00" x2="513.30" y2="320.40" stroke="#000" stroke-width="1.2" stroke-linecap="butt"/>
<text x="492.40" y="306.60" font-size="7.4" font-weight="bold" text-anchor="middle" fill="#000">****</text>
<line x1="470.20" y1="321.40" x2="499.40" y2="321.40" stroke="#000" stroke-width="1.2" stroke-linecap="butt"/>
<line x1="499.40" y1="320.80" x2="499.40" y2="332.60" stroke="#000" stroke-width="1.2" stroke-linecap="butt"/>
<text x="486.30" y="319.30" font-size="7.4" font-weight="bold" text-anchor="middle" fill="#000">****</text>
<line x1="470.20" y1="332.30" x2="485.50" y2="332.30" stroke="#000" stroke-width="1.2" stroke-linecap="butt"/>
<line x1="485.50" y1="331.70" x2="485.50" y2="341.20" stroke="#000" stroke-width="1.2" stroke-linecap="butt"/>
<text x="478.00" y="331.10" font-size="7.4" font-weight="bold" text-anchor="middle" fill="#000">****</text>
<line x1="468.00" y1="477.20" x2="518.50" y2="477.20" stroke="#000" stroke-width="1.2" stroke-linecap="butt"/>
<text x="492.65" y="490.30" font-size="11.0" font-weight="bold" text-anchor="middle" fill="#000">AML3</text>
</svg>
</body>
</html>
